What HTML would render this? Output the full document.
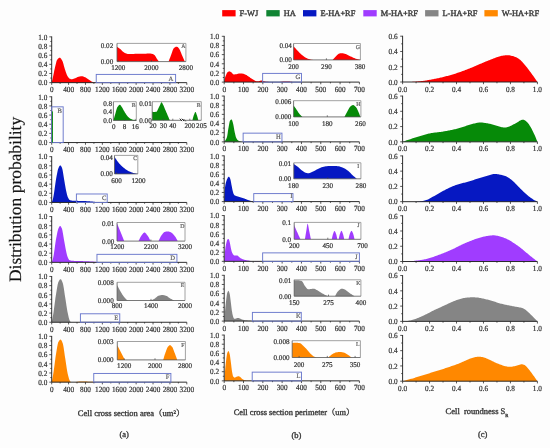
<!DOCTYPE html><html><head><meta charset="utf-8"><style>html,body{margin:0;padding:0;background:#fdfdfd;}svg{display:block;filter:blur(0.3px);}text{white-space:pre;}</style></head><body><svg width="550" height="448" viewBox="0 0 550 448" font-family="'Liberation Serif','Noto Serif CJK SC',serif" fill="#262626">
<style>text{stroke:#3a3a3a;stroke-width:0.2px;text-rendering:geometricPrecision;}</style>
<rect width="550" height="448" fill="#fdfdfd"/>
<rect x="222.2" y="10.1" width="13.4" height="6.3" fill="#ff0000"/>
<text x="239.6" y="16.4" font-size="8.4" text-anchor="start" fill="#3a3a3a" style="stroke-width:0.4px">F-WJ</text>
<rect x="266.3" y="10.1" width="13.4" height="6.3" fill="#108433"/>
<text x="283.7" y="16.4" font-size="8.4" text-anchor="start" fill="#3a3a3a" style="stroke-width:0.4px">HA</text>
<rect x="303.0" y="10.1" width="13.4" height="6.3" fill="#0618c2"/>
<text x="320.4" y="16.4" font-size="8.4" text-anchor="start" fill="#3a3a3a" style="stroke-width:0.4px">E-HA+RF</text>
<rect x="363.3" y="10.1" width="13.4" height="6.3" fill="#a03cff"/>
<text x="380.7" y="16.4" font-size="8.4" text-anchor="start" fill="#3a3a3a" style="stroke-width:0.4px">M-HA+RF</text>
<rect x="425.1" y="10.1" width="13.4" height="6.3" fill="#858585"/>
<text x="442.5" y="16.4" font-size="8.4" text-anchor="start" fill="#3a3a3a" style="stroke-width:0.4px">L-HA+RF</text>
<rect x="484.4" y="10.1" width="13.4" height="6.3" fill="#ff8800"/>
<text x="501.8" y="16.4" font-size="8.4" text-anchor="start" fill="#3a3a3a" style="stroke-width:0.4px">W-HA+RF</text>
<path d="M51.7,82.65L51.7,82.65L52.07,81.09L52.44,79.49L52.81,77.84L53.18,76.08L53.54,74.25L53.91,72.4L54.28,70.6L54.65,68.9L55.02,67.35L55.39,65.77L55.76,64.18L56.13,62.68L56.5,61.37L56.87,60.35L57.23,59.69L57.6,59.21L57.97,58.78L58.34,58.4L58.71,58.09L59.08,57.86L59.45,57.72L59.82,57.7L60.19,57.83L60.56,58.13L60.92,58.55L61.29,59.07L61.66,59.65L62.03,60.28L62.4,60.94L62.77,61.87L63.14,63.03L63.51,64.35L63.88,65.73L64.25,67.1L64.61,68.37L64.98,69.49L65.35,70.62L65.72,71.74L66.09,72.83L66.46,73.85L66.83,74.77L67.2,75.55L67.57,76.2L67.93,76.81L68.3,77.37L68.67,77.86L69.04,78.25L69.41,78.52L69.78,78.7L70.15,78.87L70.52,79.02L70.89,79.13L71.26,79.2L71.62,79.21L71.99,79.19L72.36,79.13L72.73,79.04L73.1,78.94L73.47,78.82L73.84,78.69L74.21,78.55L74.58,78.42L74.95,78.29L75.31,78.16L75.68,78L76.05,77.83L76.42,77.65L76.79,77.46L77.16,77.28L77.53,77.11L77.9,76.96L78.27,76.82L78.63,76.72L79,76.63L79.37,76.55L79.74,76.47L80.11,76.4L80.48,76.34L80.85,76.29L81.22,76.25L81.59,76.24L81.96,76.25L82.32,76.29L82.69,76.37L83.06,76.47L83.43,76.59L83.8,76.73L84.17,76.88L84.54,77.03L84.91,77.19L85.28,77.34L85.65,77.53L86.01,77.75L86.38,77.99L86.75,78.25L87.12,78.52L87.49,78.79L87.86,79.05L88.23,79.31L88.6,79.55L88.97,79.8L89.34,80.06L89.7,80.31L90.07,80.57L90.44,80.81L90.81,81.04L91.18,81.26L91.55,81.45L91.92,81.65L92.29,81.85L92.66,82.03L93.02,82.2L93.39,82.33L93.76,82.44L94.13,82.5L94.5,82.56L94.87,82.61L95.24,82.64L95.61,82.65L95.61,82.65Z" fill="#ff0000"/>
<path d="M95.61,82.65L95.61,82.65L96.21,82.64L96.82,82.63L97.43,82.62L98.03,82.61L98.64,82.6L99.25,82.59L99.85,82.58L100.46,82.57L101.07,82.56L101.67,82.55L102.28,82.54L102.89,82.53L103.49,82.52L104.1,82.51L104.71,82.5L105.31,82.49L105.92,82.49L106.53,82.48L107.13,82.47L107.74,82.46L108.35,82.46L108.95,82.45L109.56,82.45L110.17,82.44L110.77,82.44L111.38,82.43L111.99,82.43L112.59,82.43L113.2,82.42L113.81,82.42L114.41,82.42L115.02,82.42L115.63,82.42L116.23,82.42L116.84,82.42L117.45,82.42L118.05,82.42L118.66,82.42L119.27,82.42L119.87,82.42L120.48,82.42L121.09,82.42L121.69,82.42L122.3,82.42L122.91,82.42L123.51,82.42L124.12,82.42L124.73,82.42L125.33,82.42L125.94,82.42L126.55,82.42L127.15,82.42L127.76,82.42L128.37,82.42L128.97,82.42L129.58,82.42L130.19,82.42L130.79,82.42L131.4,82.42L132.01,82.42L132.61,82.42L133.22,82.42L133.83,82.42L134.43,82.42L135.04,82.42L135.65,82.42L136.25,82.42L136.86,82.43L137.47,82.44L138.07,82.45L138.68,82.47L139.29,82.49L139.89,82.52L140.5,82.54L141.11,82.57L141.71,82.59L142.32,82.61L142.93,82.63L143.53,82.64L144.14,82.65L144.75,82.65L145.35,82.65L145.96,82.65L146.57,82.65L147.17,82.65L147.78,82.65L148.39,82.65L148.99,82.65L149.6,82.65L150.21,82.65L150.81,82.65L151.42,82.65L152.03,82.65L152.63,82.65L153.24,82.65L153.85,82.65L154.45,82.65L155.06,82.65L155.67,82.64L156.27,82.61L156.88,82.56L157.49,82.51L158.09,82.44L158.7,82.38L159.31,82.32L159.91,82.26L160.52,82.22L161.13,82.2L161.73,82.19L162.34,82.2L162.95,82.22L163.55,82.24L164.16,82.27L164.77,82.32L165.37,82.37L165.98,82.42L166.59,82.49L167.19,82.57L167.8,82.65L167.8,82.65Z" fill="#ff0000"/>
<path d="M51.7,36.45V82.65H186.8" fill="none" stroke="#222" stroke-width="0.95"/>
<path d="M49.3,82.65H51.7M49.3,73.49H51.7M49.3,64.33H51.7M49.3,55.17H51.7M49.3,46.01H51.7M49.3,36.85H51.7M50.3,78.07H51.7M50.3,68.91H51.7M50.3,59.75H51.7M50.3,50.59H51.7M50.3,41.43H51.7M51.7,82.65V84.85M68.59,82.65V84.85M85.48,82.65V84.85M102.36,82.65V84.85M119.25,82.65V84.85M136.14,82.65V84.85M153.03,82.65V84.85M169.91,82.65V84.85M186.8,82.65V84.85M60.14,82.65V83.95M77.03,82.65V83.95M93.92,82.65V83.95M110.81,82.65V83.95M127.69,82.65V83.95M144.58,82.65V83.95M161.47,82.65V83.95M178.36,82.65V83.95" fill="none" stroke="#222" stroke-width="0.75"/>
<text transform="translate(47.3,85.45) scale(0.92,1)" font-size="7.9" text-anchor="end" >0.0</text>
<text transform="translate(47.3,76.29) scale(0.92,1)" font-size="7.9" text-anchor="end" >0.2</text>
<text transform="translate(47.3,67.13) scale(0.92,1)" font-size="7.9" text-anchor="end" >0.4</text>
<text transform="translate(47.3,57.97) scale(0.92,1)" font-size="7.9" text-anchor="end" >0.6</text>
<text transform="translate(47.3,48.81) scale(0.92,1)" font-size="7.9" text-anchor="end" >0.8</text>
<text transform="translate(47.3,39.65) scale(0.92,1)" font-size="7.9" text-anchor="end" >1.0</text>
<text transform="translate(51.7,92.15) scale(0.92,1)" font-size="7.9" text-anchor="middle" >0</text>
<text transform="translate(68.59,92.15) scale(0.92,1)" font-size="7.9" text-anchor="middle" >400</text>
<text transform="translate(85.48,92.15) scale(0.92,1)" font-size="7.9" text-anchor="middle" >800</text>
<text transform="translate(102.36,92.15) scale(0.92,1)" font-size="7.9" text-anchor="middle" >1200</text>
<text transform="translate(119.25,92.15) scale(0.92,1)" font-size="7.9" text-anchor="middle" >1600</text>
<text transform="translate(136.14,92.15) scale(0.92,1)" font-size="7.9" text-anchor="middle" >2000</text>
<text transform="translate(153.03,92.15) scale(0.92,1)" font-size="7.9" text-anchor="middle" >2400</text>
<text transform="translate(169.91,92.15) scale(0.92,1)" font-size="7.9" text-anchor="middle" >2800</text>
<text transform="translate(186.8,92.15) scale(0.92,1)" font-size="7.9" text-anchor="middle" >3200</text>
<rect x="96.24" y="74.41" width="79.37" height="8.24" fill="none" stroke="#6a78cc" stroke-width="0.95"/>
<text x="170.81" y="81.41" font-size="6.6" text-anchor="middle" fill="#555" style="stroke:#666">A</text>
<path d="M224.2,82.1L224.2,82.1L224.61,79.22L225.02,77.64L225.44,76.47L225.85,75.42L226.26,74.38L226.67,73.44L227.09,72.72L227.5,72.29L227.91,71.93L228.32,71.64L228.73,71.43L229.15,71.34L229.56,71.38L229.97,71.54L230.38,71.77L230.8,72.03L231.21,72.29L231.62,72.61L232.03,73.02L232.45,73.46L232.86,73.88L233.27,74.2L233.68,74.39L234.09,74.4L234.51,74.39L234.92,74.36L235.33,74.32L235.74,74.27L236.16,74.22L236.57,74.16L236.98,74.06L237.39,73.93L237.8,73.8L238.22,73.66L238.63,73.55L239.04,73.46L239.45,73.4L239.87,73.4L240.28,73.41L240.69,73.43L241.1,73.47L241.51,73.51L241.93,73.55L242.34,73.6L242.75,73.66L243.16,73.74L243.58,73.85L243.99,73.99L244.4,74.15L244.81,74.32L245.22,74.5L245.64,74.68L246.05,74.88L246.46,75.1L246.87,75.35L247.29,75.63L247.7,75.92L248.11,76.22L248.52,76.52L248.94,76.81L249.35,77.09L249.76,77.36L250.17,77.64L250.58,77.91L251,78.19L251.41,78.46L251.82,78.74L252.23,79L252.65,79.26L253.06,79.53L253.47,79.8L253.88,80.07L254.29,80.33L254.71,80.55L255.12,80.73L255.53,80.89L255.94,81.05L256.36,81.19L256.77,81.29L257.18,81.36L257.59,81.36L258,81.31L258.42,81.23L258.83,81.13L259.24,81.02L259.65,80.93L260.07,80.8L260.48,80.67L260.89,80.58L261.3,80.54L261.72,80.58L262.13,80.66L262.54,80.78L262.95,80.91L263.36,81.03L263.78,81.13L264.19,81.24L264.6,81.35L265.01,81.45L265.43,81.55L265.84,81.64L266.25,81.7L266.66,81.75L267.07,81.78L267.49,81.81L267.9,81.84L268.31,81.86L268.72,81.88L269.14,81.9L269.55,81.92L269.96,81.94L270.37,81.96L270.78,81.98L271.2,82.01L271.61,82.03L272.02,82.04L272.43,82.06L272.85,82.08L273.26,82.1L273.26,82.1Z" fill="#ff0000"/>
<path d="M279.05,82.1L279.05,82.1L279.17,82.08L279.3,82.06L279.42,82.04L279.54,82.02L279.66,82L279.78,81.98L279.9,81.96L280.03,81.94L280.15,81.92L280.27,81.9L280.39,81.88L280.51,81.87L280.64,81.85L280.76,81.83L280.88,81.81L281,81.8L281.12,81.78L281.24,81.77L281.37,81.75L281.49,81.74L281.61,81.72L281.73,81.71L281.85,81.69L281.97,81.68L282.1,81.67L282.22,81.66L282.34,81.64L282.46,81.63L282.58,81.62L282.7,81.61L282.83,81.6L282.95,81.59L283.07,81.58L283.19,81.57L283.31,81.56L283.43,81.55L283.56,81.54L283.68,81.53L283.8,81.53L283.92,81.52L284.04,81.51L284.17,81.51L284.29,81.5L284.41,81.49L284.53,81.49L284.65,81.48L284.77,81.48L284.9,81.48L285.02,81.47L285.14,81.47L285.26,81.47L285.38,81.46L285.5,81.46L285.63,81.46L285.75,81.46L285.87,81.46L285.99,81.46L286.11,81.46L286.23,81.46L286.36,81.46L286.48,81.46L286.6,81.46L286.72,81.46L286.84,81.47L286.96,81.47L287.09,81.47L287.21,81.47L287.33,81.48L287.45,81.48L287.57,81.48L287.7,81.49L287.82,81.49L287.94,81.5L288.06,81.5L288.18,81.51L288.3,81.52L288.43,81.52L288.55,81.53L288.67,81.53L288.79,81.54L288.91,81.55L289.03,81.56L289.16,81.57L289.28,81.57L289.4,81.58L289.52,81.59L289.64,81.6L289.76,81.61L289.89,81.62L290.01,81.63L290.13,81.64L290.25,81.66L290.37,81.67L290.5,81.68L290.62,81.69L290.74,81.7L290.86,81.72L290.98,81.73L291.1,81.74L291.23,81.76L291.35,81.77L291.47,81.79L291.59,81.8L291.71,81.82L291.83,81.84L291.96,81.85L292.08,81.87L292.2,81.89L292.32,81.9L292.44,81.92L292.56,81.94L292.69,81.96L292.81,81.98L292.93,82L293.05,82.02L293.17,82.04L293.29,82.06L293.42,82.08L293.54,82.1L293.54,82.1Z" fill="#ff0000"/>
<path d="M224.2,35.9V82.1H359.4" fill="none" stroke="#222" stroke-width="0.95"/>
<path d="M221.8,82.1H224.2M221.8,72.94H224.2M221.8,63.78H224.2M221.8,54.62H224.2M221.8,45.46H224.2M221.8,36.3H224.2M222.8,77.52H224.2M222.8,68.36H224.2M222.8,59.2H224.2M222.8,50.04H224.2M222.8,40.88H224.2M224.2,82.1V84.3M243.51,82.1V84.3M262.83,82.1V84.3M282.14,82.1V84.3M301.46,82.1V84.3M320.77,82.1V84.3M340.09,82.1V84.3M359.4,82.1V84.3M233.86,82.1V83.4M253.17,82.1V83.4M272.49,82.1V83.4M291.8,82.1V83.4M311.11,82.1V83.4M330.43,82.1V83.4M349.74,82.1V83.4" fill="none" stroke="#222" stroke-width="0.75"/>
<text transform="translate(219.2,84.9) scale(0.92,1)" font-size="7.9" text-anchor="end" >0.0</text>
<text transform="translate(219.2,75.74) scale(0.92,1)" font-size="7.9" text-anchor="end" >0.2</text>
<text transform="translate(219.2,66.58) scale(0.92,1)" font-size="7.9" text-anchor="end" >0.4</text>
<text transform="translate(219.2,57.42) scale(0.92,1)" font-size="7.9" text-anchor="end" >0.6</text>
<text transform="translate(219.2,48.26) scale(0.92,1)" font-size="7.9" text-anchor="end" >0.8</text>
<text transform="translate(219.2,39.1) scale(0.92,1)" font-size="7.9" text-anchor="end" >1.0</text>
<text transform="translate(224.2,91.6) scale(0.92,1)" font-size="7.9" text-anchor="middle" >0</text>
<text transform="translate(243.51,91.6) scale(0.92,1)" font-size="7.9" text-anchor="middle" >100</text>
<text transform="translate(262.83,91.6) scale(0.92,1)" font-size="7.9" text-anchor="middle" >200</text>
<text transform="translate(282.14,91.6) scale(0.92,1)" font-size="7.9" text-anchor="middle" >300</text>
<text transform="translate(301.46,91.6) scale(0.92,1)" font-size="7.9" text-anchor="middle" >400</text>
<text transform="translate(320.77,91.6) scale(0.92,1)" font-size="7.9" text-anchor="middle" >500</text>
<text transform="translate(340.09,91.6) scale(0.92,1)" font-size="7.9" text-anchor="middle" >600</text>
<text transform="translate(359.4,91.6) scale(0.92,1)" font-size="7.9" text-anchor="middle" >700</text>
<rect x="262.64" y="73.4" width="38.82" height="8.7" fill="none" stroke="#6a78cc" stroke-width="0.95"/>
<text x="297.96" y="79.2" font-size="6.6" text-anchor="middle" fill="#555" style="stroke:#666">G</text>
<path d="M402.6,82L402.6,82L403.45,82L404.3,82L405.14,82L405.99,82L406.84,82L407.69,82L408.53,82L409.38,81.99L410.23,81.96L411.08,81.93L411.93,81.9L412.77,81.85L413.62,81.8L414.47,81.74L415.32,81.68L416.16,81.61L417.01,81.54L417.86,81.46L418.71,81.37L419.56,81.28L420.4,81.19L421.25,81.09L422.1,80.99L422.95,80.88L423.79,80.76L424.64,80.65L425.49,80.52L426.34,80.39L427.19,80.26L428.03,80.12L428.88,79.98L429.73,79.83L430.58,79.68L431.43,79.53L432.27,79.37L433.12,79.21L433.97,79.04L434.82,78.87L435.66,78.7L436.51,78.52L437.36,78.34L438.21,78.16L439.06,77.97L439.9,77.78L440.75,77.58L441.6,77.39L442.45,77.18L443.29,76.98L444.14,76.77L444.99,76.55L445.84,76.34L446.69,76.11L447.53,75.89L448.38,75.66L449.23,75.43L450.08,75.19L450.92,74.95L451.77,74.7L452.62,74.45L453.47,74.19L454.32,73.93L455.16,73.66L456.01,73.39L456.86,73.11L457.71,72.83L458.55,72.54L459.4,72.25L460.25,71.95L461.1,71.65L461.95,71.35L462.79,71.04L463.64,70.73L464.49,70.42L465.34,70.1L466.18,69.78L467.03,69.45L467.88,69.11L468.73,68.78L469.58,68.43L470.42,68.09L471.27,67.73L472.12,67.38L472.97,67.02L473.82,66.66L474.66,66.3L475.51,65.94L476.36,65.57L477.21,65.21L478.05,64.84L478.9,64.48L479.75,64.12L480.6,63.75L481.45,63.39L482.29,63.03L483.14,62.68L483.99,62.32L484.84,61.97L485.68,61.62L486.53,61.28L487.38,60.94L488.23,60.6L489.08,60.26L489.92,59.92L490.77,59.59L491.62,59.25L492.47,58.92L493.31,58.59L494.16,58.27L495.01,57.94L495.86,57.61L496.71,57.29L497.55,56.97L498.4,56.69L499.25,56.44L500.1,56.23L500.94,56.03L501.79,55.86L502.64,55.71L503.49,55.58L504.34,55.46L505.18,55.35L506.03,55.25L506.88,55.2L507.73,55.21L508.57,55.26L509.42,55.37L510.27,55.51L511.12,55.68L511.97,55.88L512.81,56.11L513.66,56.35L514.51,56.63L515.36,56.95L516.21,57.32L517.05,57.74L517.9,58.22L518.75,58.78L519.6,59.41L520.44,60.12L521.29,60.92L522.14,61.79L522.99,62.7L523.84,63.65L524.68,64.64L525.53,65.66L526.38,66.71L527.23,67.78L528.07,68.89L528.92,70.02L529.77,71.17L530.62,72.33L531.47,73.49L532.31,74.66L533.16,75.84L534.01,77.03L534.86,78.24L535.7,79.47L536.55,80.72L537.4,82L537.4,82Z" fill="#ff0000"/>
<path d="M402.6,35.8V82H537.4" fill="none" stroke="#222" stroke-width="0.95"/>
<path d="M400.2,82H402.6M400.2,66.73H402.6M400.2,51.47H402.6M400.2,36.2H402.6M401.2,74.37H402.6M401.2,59.1H402.6M401.2,43.83H402.6M402.6,82V84.2M429.56,82V84.2M456.52,82V84.2M483.48,82V84.2M510.44,82V84.2M537.4,82V84.2M416.08,82V83.3M443.04,82V83.3M470,82V83.3M496.96,82V83.3M523.92,82V83.3" fill="none" stroke="#222" stroke-width="0.75"/>
<text transform="translate(397.6,84.8) scale(0.92,1)" font-size="7.9" text-anchor="end" >0.0</text>
<text transform="translate(397.6,69.53) scale(0.92,1)" font-size="7.9" text-anchor="end" >0.2</text>
<text transform="translate(397.6,54.27) scale(0.92,1)" font-size="7.9" text-anchor="end" >0.4</text>
<text transform="translate(397.6,39) scale(0.92,1)" font-size="7.9" text-anchor="end" >0.6</text>
<text transform="translate(402.6,91.5) scale(0.92,1)" font-size="7.9" text-anchor="middle" >0.0</text>
<text transform="translate(429.56,91.5) scale(0.92,1)" font-size="7.9" text-anchor="middle" >0.2</text>
<text transform="translate(456.52,91.5) scale(0.92,1)" font-size="7.9" text-anchor="middle" >0.4</text>
<text transform="translate(483.48,91.5) scale(0.92,1)" font-size="7.9" text-anchor="middle" >0.6</text>
<text transform="translate(510.44,91.5) scale(0.92,1)" font-size="7.9" text-anchor="middle" >0.8</text>
<text transform="translate(537.4,91.5) scale(0.92,1)" font-size="7.9" text-anchor="middle" >1.0</text>
<path d="M51.7,96.35V142.55H186.8" fill="none" stroke="#222" stroke-width="0.95"/>
<path d="M49.3,142.55H51.7M49.3,133.39H51.7M49.3,124.23H51.7M49.3,115.07H51.7M49.3,105.91H51.7M49.3,96.75H51.7M50.3,137.97H51.7M50.3,128.81H51.7M50.3,119.65H51.7M50.3,110.49H51.7M50.3,101.33H51.7M51.7,142.55V144.75M68.59,142.55V144.75M85.48,142.55V144.75M102.36,142.55V144.75M119.25,142.55V144.75M136.14,142.55V144.75M153.03,142.55V144.75M169.91,142.55V144.75M186.8,142.55V144.75M60.14,142.55V143.85M77.03,142.55V143.85M93.92,142.55V143.85M110.81,142.55V143.85M127.69,142.55V143.85M144.58,142.55V143.85M161.47,142.55V143.85M178.36,142.55V143.85" fill="none" stroke="#222" stroke-width="0.75"/>
<text transform="translate(47.3,145.35) scale(0.92,1)" font-size="7.9" text-anchor="end" >0.0</text>
<text transform="translate(47.3,136.19) scale(0.92,1)" font-size="7.9" text-anchor="end" >0.2</text>
<text transform="translate(47.3,127.03) scale(0.92,1)" font-size="7.9" text-anchor="end" >0.4</text>
<text transform="translate(47.3,117.87) scale(0.92,1)" font-size="7.9" text-anchor="end" >0.6</text>
<text transform="translate(47.3,108.71) scale(0.92,1)" font-size="7.9" text-anchor="end" >0.8</text>
<text transform="translate(47.3,99.55) scale(0.92,1)" font-size="7.9" text-anchor="end" >1.0</text>
<text transform="translate(51.7,152.05) scale(0.92,1)" font-size="7.9" text-anchor="middle" >0</text>
<text transform="translate(68.59,152.05) scale(0.92,1)" font-size="7.9" text-anchor="middle" >400</text>
<text transform="translate(85.48,152.05) scale(0.92,1)" font-size="7.9" text-anchor="middle" >800</text>
<text transform="translate(102.36,152.05) scale(0.92,1)" font-size="7.9" text-anchor="middle" >1200</text>
<text transform="translate(119.25,152.05) scale(0.92,1)" font-size="7.9" text-anchor="middle" >1600</text>
<text transform="translate(136.14,152.05) scale(0.92,1)" font-size="7.9" text-anchor="middle" >2000</text>
<text transform="translate(153.03,152.05) scale(0.92,1)" font-size="7.9" text-anchor="middle" >2400</text>
<text transform="translate(169.91,152.05) scale(0.92,1)" font-size="7.9" text-anchor="middle" >2800</text>
<text transform="translate(186.8,152.05) scale(0.92,1)" font-size="7.9" text-anchor="middle" >3200</text>
<rect x="51.7" y="106.83" width="11.48" height="35.72" fill="none" stroke="#6a78cc" stroke-width="0.95"/>
<text x="59.58" y="112.53" font-size="6.6" text-anchor="middle" fill="#555" style="stroke:#666">B</text>
<rect x="52" y="111.41" width="0.9" height="31.14" fill="#068a08"/>
<path d="M224.2,141.85L224.2,141.85L224.35,141.69L224.51,141.53L224.66,141.35L224.81,141.15L224.96,140.95L225.12,140.73L225.27,140.52L225.42,140.29L225.57,140.07L225.73,139.83L225.88,139.57L226.03,139.3L226.18,139.01L226.34,138.7L226.49,138.36L226.64,137.99L226.79,137.58L226.95,137.14L227.1,136.55L227.25,135.8L227.4,134.92L227.56,133.95L227.71,132.92L227.86,131.86L228.01,130.8L228.17,129.79L228.32,128.84L228.47,127.99L228.62,127.15L228.78,126.27L228.93,125.38L229.08,124.49L229.23,123.65L229.39,122.86L229.54,122.15L229.69,121.55L229.84,121.09L230,120.78L230.15,120.55L230.3,120.34L230.46,120.15L230.61,119.97L230.76,119.81L230.91,119.68L231.07,119.57L231.22,119.48L231.37,119.43L231.52,119.41L231.68,119.46L231.83,119.63L231.98,119.9L232.13,120.27L232.29,120.7L232.44,121.19L232.59,121.72L232.74,122.28L232.9,122.84L233.05,123.4L233.2,123.98L233.35,124.67L233.51,125.46L233.66,126.31L233.81,127.2L233.96,128.12L234.12,129.03L234.27,129.92L234.42,130.76L234.57,131.52L234.73,132.21L234.88,132.91L235.03,133.6L235.18,134.28L235.34,134.94L235.49,135.56L235.64,136.15L235.8,136.68L235.95,137.16L236.1,137.56L236.25,137.89L236.41,138.2L236.56,138.49L236.71,138.77L236.86,139.03L237.02,139.27L237.17,139.5L237.32,139.71L237.47,139.9L237.63,140.07L237.78,140.22L237.93,140.35L238.08,140.46L238.24,140.56L238.39,140.64L238.54,140.72L238.69,140.8L238.85,140.87L239,140.93L239.15,140.99L239.3,141.05L239.46,141.1L239.61,141.15L239.76,141.2L239.91,141.24L240.07,141.29L240.22,141.33L240.37,141.38L240.52,141.42L240.68,141.47L240.83,141.51L240.98,141.55L241.13,141.59L241.29,141.63L241.44,141.66L241.59,141.7L241.75,141.73L241.9,141.77L242.05,141.8L242.2,141.82L242.36,141.85L242.36,141.85Z" fill="#068a08"/>
<path d="M224.2,95.65V141.85H359.4" fill="none" stroke="#222" stroke-width="0.95"/>
<path d="M221.8,141.85H224.2M221.8,132.69H224.2M221.8,123.53H224.2M221.8,114.37H224.2M221.8,105.21H224.2M221.8,96.05H224.2M222.8,137.27H224.2M222.8,128.11H224.2M222.8,118.95H224.2M222.8,109.79H224.2M222.8,100.63H224.2M224.2,141.85V144.05M243.51,141.85V144.05M262.83,141.85V144.05M282.14,141.85V144.05M301.46,141.85V144.05M320.77,141.85V144.05M340.09,141.85V144.05M359.4,141.85V144.05M233.86,141.85V143.15M253.17,141.85V143.15M272.49,141.85V143.15M291.8,141.85V143.15M311.11,141.85V143.15M330.43,141.85V143.15M349.74,141.85V143.15" fill="none" stroke="#222" stroke-width="0.75"/>
<text transform="translate(219.2,144.65) scale(0.92,1)" font-size="7.9" text-anchor="end" >0.0</text>
<text transform="translate(219.2,135.49) scale(0.92,1)" font-size="7.9" text-anchor="end" >0.2</text>
<text transform="translate(219.2,126.33) scale(0.92,1)" font-size="7.9" text-anchor="end" >0.4</text>
<text transform="translate(219.2,117.17) scale(0.92,1)" font-size="7.9" text-anchor="end" >0.6</text>
<text transform="translate(219.2,108.01) scale(0.92,1)" font-size="7.9" text-anchor="end" >0.8</text>
<text transform="translate(219.2,98.85) scale(0.92,1)" font-size="7.9" text-anchor="end" >1.0</text>
<text transform="translate(224.2,151.35) scale(0.92,1)" font-size="7.9" text-anchor="middle" >0</text>
<text transform="translate(243.51,151.35) scale(0.92,1)" font-size="7.9" text-anchor="middle" >100</text>
<text transform="translate(262.83,151.35) scale(0.92,1)" font-size="7.9" text-anchor="middle" >200</text>
<text transform="translate(282.14,151.35) scale(0.92,1)" font-size="7.9" text-anchor="middle" >300</text>
<text transform="translate(301.46,151.35) scale(0.92,1)" font-size="7.9" text-anchor="middle" >400</text>
<text transform="translate(320.77,151.35) scale(0.92,1)" font-size="7.9" text-anchor="middle" >500</text>
<text transform="translate(340.09,151.35) scale(0.92,1)" font-size="7.9" text-anchor="middle" >600</text>
<text transform="translate(359.4,151.35) scale(0.92,1)" font-size="7.9" text-anchor="middle" >700</text>
<rect x="243.13" y="133.15" width="38.82" height="8.7" fill="none" stroke="#6a78cc" stroke-width="0.95"/>
<text x="278.35" y="138.85" font-size="6.6" text-anchor="middle" fill="#555" style="stroke:#666">H</text>
<path d="M402.6,141.84L402.6,141.84L403.45,141.53L404.3,141.22L405.14,140.92L405.99,140.62L406.84,140.33L407.69,140.04L408.53,139.75L409.38,139.46L410.23,139.18L411.08,138.89L411.93,138.61L412.77,138.34L413.62,138.06L414.47,137.78L415.32,137.51L416.16,137.23L417.01,136.96L417.86,136.69L418.71,136.42L419.56,136.15L420.4,135.89L421.25,135.63L422.1,135.38L422.95,135.13L423.79,134.88L424.64,134.65L425.49,134.42L426.34,134.2L427.19,133.99L428.03,133.78L428.88,133.59L429.73,133.41L430.58,133.24L431.43,133.09L432.27,132.95L433.12,132.82L433.97,132.71L434.82,132.6L435.66,132.5L436.51,132.4L437.36,132.3L438.21,132.2L439.06,132.1L439.9,132L440.75,131.89L441.6,131.77L442.45,131.63L443.29,131.49L444.14,131.34L444.99,131.19L445.84,131.04L446.69,130.89L447.53,130.74L448.38,130.58L449.23,130.42L450.08,130.25L450.92,130.08L451.77,129.91L452.62,129.74L453.47,129.56L454.32,129.37L455.16,129.18L456.01,128.98L456.86,128.78L457.71,128.56L458.55,128.33L459.4,128.08L460.25,127.82L461.1,127.56L461.95,127.28L462.79,127L463.64,126.72L464.49,126.43L465.34,126.14L466.18,125.86L467.03,125.58L467.88,125.31L468.73,125.04L469.58,124.79L470.42,124.54L471.27,124.3L472.12,124.06L472.97,123.82L473.82,123.6L474.66,123.39L475.51,123.19L476.36,123.01L477.21,122.85L478.05,122.72L478.9,122.62L479.75,122.55L480.6,122.51L481.45,122.52L482.29,122.56L483.14,122.64L483.99,122.75L484.84,122.88L485.68,123.03L486.53,123.19L487.38,123.35L488.23,123.52L489.08,123.69L489.92,123.85L490.77,124.01L491.62,124.19L492.47,124.41L493.31,124.65L494.16,124.9L495.01,125.17L495.86,125.45L496.71,125.73L497.55,126.01L498.4,126.28L499.25,126.54L500.1,126.78L500.94,127L501.79,127.19L502.64,127.34L503.49,127.46L504.34,127.54L505.18,127.57L506.03,127.51L506.88,127.35L507.73,127.12L508.57,126.82L509.42,126.46L510.27,126.06L511.12,125.63L511.97,125.18L512.81,124.74L513.66,124.3L514.51,123.89L515.36,123.46L516.21,122.97L517.05,122.45L517.9,121.92L518.75,121.38L519.6,120.87L520.44,120.39L521.29,119.98L522.14,119.72L522.99,119.69L523.84,119.85L524.68,120.2L525.53,120.72L526.38,121.4L527.23,122.22L528.07,123.21L528.92,124.35L529.77,125.64L530.62,127.05L531.47,128.59L532.31,130.23L533.16,131.94L534.01,133.73L534.86,135.61L535.7,137.58L536.55,139.65L537.4,141.84L537.4,141.84Z" fill="#068a08"/>
<path d="M402.6,95.64V141.84H537.4" fill="none" stroke="#222" stroke-width="0.95"/>
<path d="M400.2,141.84H402.6M400.2,126.57H402.6M400.2,111.31H402.6M400.2,96.04H402.6M401.2,134.21H402.6M401.2,118.94H402.6M401.2,103.67H402.6M402.6,141.84V144.04M429.56,141.84V144.04M456.52,141.84V144.04M483.48,141.84V144.04M510.44,141.84V144.04M537.4,141.84V144.04M416.08,141.84V143.14M443.04,141.84V143.14M470,141.84V143.14M496.96,141.84V143.14M523.92,141.84V143.14" fill="none" stroke="#222" stroke-width="0.75"/>
<text transform="translate(397.6,144.64) scale(0.92,1)" font-size="7.9" text-anchor="end" >0.0</text>
<text transform="translate(397.6,129.37) scale(0.92,1)" font-size="7.9" text-anchor="end" >0.2</text>
<text transform="translate(397.6,114.11) scale(0.92,1)" font-size="7.9" text-anchor="end" >0.4</text>
<text transform="translate(397.6,98.84) scale(0.92,1)" font-size="7.9" text-anchor="end" >0.6</text>
<text transform="translate(402.6,151.34) scale(0.92,1)" font-size="7.9" text-anchor="middle" >0.0</text>
<text transform="translate(429.56,151.34) scale(0.92,1)" font-size="7.9" text-anchor="middle" >0.2</text>
<text transform="translate(456.52,151.34) scale(0.92,1)" font-size="7.9" text-anchor="middle" >0.4</text>
<text transform="translate(483.48,151.34) scale(0.92,1)" font-size="7.9" text-anchor="middle" >0.6</text>
<text transform="translate(510.44,151.34) scale(0.92,1)" font-size="7.9" text-anchor="middle" >0.8</text>
<text transform="translate(537.4,151.34) scale(0.92,1)" font-size="7.9" text-anchor="middle" >1.0</text>
<path d="M51.7,202.45L51.7,202.45L52.1,201.55L52.5,200.4L52.9,199.02L53.3,197.31L53.7,195.1L54.11,192.51L54.51,189.69L54.91,186.77L55.31,183.88L55.71,181.16L56.11,178.75L56.51,176.62L56.91,174.47L57.31,172.4L57.71,170.55L58.11,169.03L58.52,167.97L58.92,167.12L59.32,166.36L59.72,165.76L60.12,165.41L60.52,165.39L60.92,165.76L61.32,166.44L61.72,167.32L62.12,168.31L62.52,169.85L62.93,171.97L63.33,174.44L63.73,177L64.13,179.4L64.53,181.71L64.93,184.13L65.33,186.55L65.73,188.83L66.13,190.86L66.53,192.6L66.93,194.23L67.34,195.7L67.74,196.9L68.14,197.79L68.54,198.56L68.94,199.22L69.34,199.71L69.74,199.98L70.14,200.16L70.54,200.31L70.94,200.44L71.34,200.53L71.75,200.59L72.15,200.63L72.55,200.66L72.95,200.69L73.35,200.71L73.75,200.73L74.15,200.75L74.55,200.77L74.95,200.78L75.35,200.79L75.75,200.81L76.15,200.82L76.56,200.83L76.96,200.84L77.36,200.86L77.76,200.87L78.16,200.88L78.56,200.89L78.96,200.9L79.36,200.91L79.76,200.92L80.16,200.93L80.56,200.94L80.97,200.95L81.37,200.96L81.77,200.97L82.17,200.98L82.57,200.99L82.97,201L83.37,201.01L83.77,201.02L84.17,201.03L84.57,201.04L84.97,201.06L85.38,201.07L85.78,201.09L86.18,201.11L86.58,201.13L86.98,201.15L87.38,201.18L87.78,201.2L88.18,201.23L88.58,201.26L88.98,201.29L89.38,201.32L89.79,201.36L90.19,201.39L90.59,201.43L90.99,201.46L91.39,201.5L91.79,201.53L92.19,201.57L92.59,201.61L92.99,201.65L93.39,201.7L93.79,201.74L94.2,201.79L94.6,201.84L95,201.89L95.4,201.94L95.8,201.99L96.2,202.04L96.6,202.09L97,202.14L97.4,202.19L97.8,202.24L98.2,202.29L98.61,202.34L99.01,202.4L99.41,202.45L99.41,202.45Z" fill="#0618c2"/>
<path d="M51.7,156.25V202.45H186.8" fill="none" stroke="#222" stroke-width="0.95"/>
<path d="M49.3,202.45H51.7M49.3,193.29H51.7M49.3,184.13H51.7M49.3,174.97H51.7M49.3,165.81H51.7M49.3,156.65H51.7M50.3,197.87H51.7M50.3,188.71H51.7M50.3,179.55H51.7M50.3,170.39H51.7M50.3,161.23H51.7M51.7,202.45V204.65M68.59,202.45V204.65M85.48,202.45V204.65M102.36,202.45V204.65M119.25,202.45V204.65M136.14,202.45V204.65M153.03,202.45V204.65M169.91,202.45V204.65M186.8,202.45V204.65M60.14,202.45V203.75M77.03,202.45V203.75M93.92,202.45V203.75M110.81,202.45V203.75M127.69,202.45V203.75M144.58,202.45V203.75M161.47,202.45V203.75M178.36,202.45V203.75" fill="none" stroke="#222" stroke-width="0.75"/>
<text transform="translate(47.3,205.25) scale(0.92,1)" font-size="7.9" text-anchor="end" >0.0</text>
<text transform="translate(47.3,196.09) scale(0.92,1)" font-size="7.9" text-anchor="end" >0.2</text>
<text transform="translate(47.3,186.93) scale(0.92,1)" font-size="7.9" text-anchor="end" >0.4</text>
<text transform="translate(47.3,177.77) scale(0.92,1)" font-size="7.9" text-anchor="end" >0.6</text>
<text transform="translate(47.3,168.61) scale(0.92,1)" font-size="7.9" text-anchor="end" >0.8</text>
<text transform="translate(47.3,159.45) scale(0.92,1)" font-size="7.9" text-anchor="end" >1.0</text>
<text transform="translate(51.7,211.95) scale(0.92,1)" font-size="7.9" text-anchor="middle" >0</text>
<text transform="translate(68.59,211.95) scale(0.92,1)" font-size="7.9" text-anchor="middle" >400</text>
<text transform="translate(85.48,211.95) scale(0.92,1)" font-size="7.9" text-anchor="middle" >800</text>
<text transform="translate(102.36,211.95) scale(0.92,1)" font-size="7.9" text-anchor="middle" >1200</text>
<text transform="translate(119.25,211.95) scale(0.92,1)" font-size="7.9" text-anchor="middle" >1600</text>
<text transform="translate(136.14,211.95) scale(0.92,1)" font-size="7.9" text-anchor="middle" >2000</text>
<text transform="translate(153.03,211.95) scale(0.92,1)" font-size="7.9" text-anchor="middle" >2400</text>
<text transform="translate(169.91,211.95) scale(0.92,1)" font-size="7.9" text-anchor="middle" >2800</text>
<text transform="translate(186.8,211.95) scale(0.92,1)" font-size="7.9" text-anchor="middle" >3200</text>
<rect x="76.4" y="193.98" width="30.82" height="8.47" fill="none" stroke="#6a78cc" stroke-width="0.95"/>
<text x="104.32" y="199.88" font-size="6.6" text-anchor="middle" fill="#555" style="stroke:#666">C</text>
<path d="M224.2,201.6L224.2,201.6L224.61,191.65L225.01,187.47L225.42,184.83L225.82,182.94L226.23,181.41L226.63,180.2L227.04,179.22L227.45,178.38L227.85,177.54L228.26,176.89L228.66,176.64L229.07,176.84L229.47,177.35L229.88,178.07L230.29,178.95L230.69,180.57L231.1,182.76L231.5,184.94L231.91,187L232.32,189.16L232.72,191.12L233.13,192.56L233.53,193.64L233.94,194.53L234.34,195.11L234.75,195.39L235.16,195.62L235.56,195.81L235.97,195.97L236.37,196.11L236.78,196.23L237.18,196.33L237.59,196.43L238,196.54L238.4,196.64L238.81,196.77L239.21,196.9L239.62,197.03L240.02,197.15L240.43,197.28L240.84,197.4L241.24,197.52L241.65,197.64L242.05,197.76L242.46,197.88L242.87,198.01L243.27,198.15L243.68,198.29L244.08,198.44L244.49,198.6L244.89,198.76L245.3,198.93L245.71,199.1L246.11,199.27L246.52,199.44L246.92,199.6L247.33,199.76L247.73,199.92L248.14,200.06L248.55,200.19L248.95,200.32L249.36,200.43L249.76,200.55L250.17,200.67L250.57,200.79L250.98,200.9L251.39,201.01L251.79,201.11L252.2,201.19L252.6,201.25L253.01,201.3L253.41,201.32L253.82,201.33L254.23,201.33L254.63,201.33L255.04,201.33L255.44,201.33L255.85,201.33L256.26,201.33L256.66,201.33L257.07,201.33L257.47,201.32L257.88,201.31L258.28,201.3L258.69,201.29L259.1,201.27L259.5,201.25L259.91,201.23L260.31,201.22L260.72,201.2L261.12,201.18L261.53,201.17L261.94,201.15L262.34,201.15L262.75,201.14L263.15,201.14L263.56,201.14L263.96,201.14L264.37,201.14L264.78,201.14L265.18,201.14L265.59,201.14L265.99,201.14L266.4,201.14L266.81,201.14L267.21,201.14L267.62,201.14L268.02,201.14L268.43,201.14L268.83,201.14L269.24,201.16L269.65,201.19L270.05,201.23L270.46,201.28L270.86,201.33L271.27,201.4L271.67,201.46L272.08,201.53L272.49,201.6L272.49,201.6Z" fill="#0618c2"/>
<path d="M224.2,155.4V201.6H359.4" fill="none" stroke="#222" stroke-width="0.95"/>
<path d="M221.8,201.6H224.2M221.8,192.44H224.2M221.8,183.28H224.2M221.8,174.12H224.2M221.8,164.96H224.2M221.8,155.8H224.2M222.8,197.02H224.2M222.8,187.86H224.2M222.8,178.7H224.2M222.8,169.54H224.2M222.8,160.38H224.2M224.2,201.6V203.8M243.51,201.6V203.8M262.83,201.6V203.8M282.14,201.6V203.8M301.46,201.6V203.8M320.77,201.6V203.8M340.09,201.6V203.8M359.4,201.6V203.8M233.86,201.6V202.9M253.17,201.6V202.9M272.49,201.6V202.9M291.8,201.6V202.9M311.11,201.6V202.9M330.43,201.6V202.9M349.74,201.6V202.9" fill="none" stroke="#222" stroke-width="0.75"/>
<text transform="translate(219.2,204.4) scale(0.92,1)" font-size="7.9" text-anchor="end" >0.0</text>
<text transform="translate(219.2,195.24) scale(0.92,1)" font-size="7.9" text-anchor="end" >0.2</text>
<text transform="translate(219.2,186.08) scale(0.92,1)" font-size="7.9" text-anchor="end" >0.4</text>
<text transform="translate(219.2,176.92) scale(0.92,1)" font-size="7.9" text-anchor="end" >0.6</text>
<text transform="translate(219.2,167.76) scale(0.92,1)" font-size="7.9" text-anchor="end" >0.8</text>
<text transform="translate(219.2,158.6) scale(0.92,1)" font-size="7.9" text-anchor="end" >1.0</text>
<text transform="translate(224.2,211.1) scale(0.92,1)" font-size="7.9" text-anchor="middle" >0</text>
<text transform="translate(243.51,211.1) scale(0.92,1)" font-size="7.9" text-anchor="middle" >100</text>
<text transform="translate(262.83,211.1) scale(0.92,1)" font-size="7.9" text-anchor="middle" >200</text>
<text transform="translate(282.14,211.1) scale(0.92,1)" font-size="7.9" text-anchor="middle" >300</text>
<text transform="translate(301.46,211.1) scale(0.92,1)" font-size="7.9" text-anchor="middle" >400</text>
<text transform="translate(320.77,211.1) scale(0.92,1)" font-size="7.9" text-anchor="middle" >500</text>
<text transform="translate(340.09,211.1) scale(0.92,1)" font-size="7.9" text-anchor="middle" >600</text>
<text transform="translate(359.4,211.1) scale(0.92,1)" font-size="7.9" text-anchor="middle" >700</text>
<rect x="253.75" y="193.59" width="39.21" height="8.01" fill="none" stroke="#6a78cc" stroke-width="0.95"/>
<text x="291.26" y="198.29" font-size="6.6" text-anchor="middle" fill="#555" style="stroke:#666">I</text>
<path d="M402.6,201.68L402.6,201.68L403.45,201.68L404.3,201.68L405.14,201.68L405.99,201.68L406.84,201.68L407.69,201.68L408.53,201.68L409.38,201.68L410.23,201.68L411.08,201.68L411.93,201.68L412.77,201.68L413.62,201.68L414.47,201.68L415.32,201.68L416.16,201.68L417.01,201.64L417.86,201.58L418.71,201.5L419.56,201.41L420.4,201.31L421.25,201.19L422.1,201.05L422.95,200.89L423.79,200.72L424.64,200.53L425.49,200.3L426.34,200.04L427.19,199.74L428.03,199.39L428.88,198.99L429.73,198.53L430.58,198.05L431.43,197.57L432.27,197.09L433.12,196.61L433.97,196.13L434.82,195.65L435.66,195.17L436.51,194.69L437.36,194.21L438.21,193.73L439.06,193.25L439.9,192.77L440.75,192.29L441.6,191.81L442.45,191.33L443.29,190.85L444.14,190.38L444.99,189.93L445.84,189.5L446.69,189.08L447.53,188.66L448.38,188.26L449.23,187.87L450.08,187.47L450.92,187.08L451.77,186.7L452.62,186.34L453.47,185.98L454.32,185.65L455.16,185.34L456.01,185.05L456.86,184.78L457.71,184.53L458.55,184.28L459.4,184.04L460.25,183.8L461.1,183.57L461.95,183.33L462.79,183.1L463.64,182.87L464.49,182.64L465.34,182.41L466.18,182.18L467.03,181.94L467.88,181.7L468.73,181.45L469.58,181.2L470.42,180.94L471.27,180.68L472.12,180.42L472.97,180.15L473.82,179.89L474.66,179.62L475.51,179.36L476.36,179.09L477.21,178.83L478.05,178.56L478.9,178.3L479.75,178.03L480.6,177.77L481.45,177.5L482.29,177.24L483.14,176.98L483.99,176.71L484.84,176.45L485.68,176.2L486.53,175.94L487.38,175.69L488.23,175.44L489.08,175.19L489.92,174.95L490.77,174.71L491.62,174.48L492.47,174.25L493.31,174.05L494.16,173.95L495.01,173.93L495.86,173.98L496.71,174.07L497.55,174.2L498.4,174.35L499.25,174.51L500.1,174.66L500.94,174.82L501.79,175L502.64,175.2L503.49,175.44L504.34,175.71L505.18,176.02L506.03,176.37L506.88,176.78L507.73,177.24L508.57,177.76L509.42,178.33L510.27,178.94L511.12,179.6L511.97,180.29L512.81,181.03L513.66,181.81L514.51,182.62L515.36,183.47L516.21,184.33L517.05,185.21L517.9,186.1L518.75,186.98L519.6,187.85L520.44,188.7L521.29,189.53L522.14,190.34L522.99,191.15L523.84,191.94L524.68,192.72L525.53,193.49L526.38,194.25L527.23,194.99L528.07,195.7L528.92,196.38L529.77,197.03L530.62,197.66L531.47,198.25L532.31,198.83L533.16,199.38L534.01,199.89L534.86,200.38L535.7,200.84L536.55,201.27L537.4,201.68L537.4,201.68Z" fill="#0618c2"/>
<path d="M402.6,155.48V201.68H537.4" fill="none" stroke="#222" stroke-width="0.95"/>
<path d="M400.2,201.68H402.6M400.2,186.41H402.6M400.2,171.15H402.6M400.2,155.88H402.6M401.2,194.05H402.6M401.2,178.78H402.6M401.2,163.51H402.6M402.6,201.68V203.88M429.56,201.68V203.88M456.52,201.68V203.88M483.48,201.68V203.88M510.44,201.68V203.88M537.4,201.68V203.88M416.08,201.68V202.98M443.04,201.68V202.98M470,201.68V202.98M496.96,201.68V202.98M523.92,201.68V202.98" fill="none" stroke="#222" stroke-width="0.75"/>
<text transform="translate(397.6,204.48) scale(0.92,1)" font-size="7.9" text-anchor="end" >0.0</text>
<text transform="translate(397.6,189.21) scale(0.92,1)" font-size="7.9" text-anchor="end" >0.2</text>
<text transform="translate(397.6,173.95) scale(0.92,1)" font-size="7.9" text-anchor="end" >0.4</text>
<text transform="translate(397.6,158.68) scale(0.92,1)" font-size="7.9" text-anchor="end" >0.6</text>
<text transform="translate(402.6,211.18) scale(0.92,1)" font-size="7.9" text-anchor="middle" >0.0</text>
<text transform="translate(429.56,211.18) scale(0.92,1)" font-size="7.9" text-anchor="middle" >0.2</text>
<text transform="translate(456.52,211.18) scale(0.92,1)" font-size="7.9" text-anchor="middle" >0.4</text>
<text transform="translate(483.48,211.18) scale(0.92,1)" font-size="7.9" text-anchor="middle" >0.6</text>
<text transform="translate(510.44,211.18) scale(0.92,1)" font-size="7.9" text-anchor="middle" >0.8</text>
<text transform="translate(537.4,211.18) scale(0.92,1)" font-size="7.9" text-anchor="middle" >1.0</text>
<path d="M51.7,262.35L51.7,262.35L52.11,261.43L52.52,260.25L52.92,258.85L53.33,257.06L53.74,254.76L54.15,252.08L54.56,249.17L54.96,246.18L55.37,243.26L55.78,240.56L56.19,238.23L56.6,236.14L57,234.06L57.41,232.11L57.82,230.39L58.23,229.03L58.64,228.07L59.04,227.21L59.45,226.5L59.86,226.04L60.27,225.96L60.68,226.27L61.08,226.88L61.49,227.7L61.9,228.62L62.31,230.09L62.72,232.16L63.12,234.58L63.53,237.09L63.94,239.43L64.35,241.68L64.76,244.01L65.16,246.34L65.57,248.56L65.98,250.56L66.39,252.38L66.8,254.14L67.2,255.72L67.61,256.99L68.02,257.93L68.43,258.77L68.84,259.46L69.24,259.94L69.65,260.16L70.06,260.33L70.47,260.47L70.88,260.58L71.28,260.66L71.69,260.72L72.1,260.76L72.51,260.79L72.92,260.82L73.32,260.84L73.73,260.86L74.14,260.88L74.55,260.89L74.96,260.91L75.36,260.92L75.77,260.94L76.18,260.95L76.59,260.96L77,260.97L77.4,260.99L77.81,261L78.22,261.01L78.63,261.02L79.04,261.04L79.44,261.05L79.85,261.06L80.26,261.07L80.67,261.08L81.08,261.08L81.48,261.09L81.89,261.1L82.3,261.11L82.71,261.12L83.12,261.13L83.52,261.14L83.93,261.16L84.34,261.17L84.75,261.18L85.16,261.19L85.56,261.21L85.97,261.22L86.38,261.24L86.79,261.26L87.2,261.27L87.6,261.29L88.01,261.31L88.42,261.33L88.83,261.35L89.24,261.37L89.64,261.39L90.05,261.41L90.46,261.44L90.87,261.46L91.28,261.48L91.68,261.51L92.09,261.53L92.5,261.56L92.91,261.59L93.32,261.62L93.72,261.65L94.13,261.68L94.54,261.72L94.95,261.75L95.36,261.8L95.76,261.84L96.17,261.89L96.58,261.94L96.99,261.99L97.4,262.04L97.8,262.08L98.21,262.13L98.62,262.17L99.03,262.22L99.44,262.26L99.84,262.31L100.25,262.35L100.25,262.35Z" fill="#a03cff"/>
<path d="M51.7,216.15V262.35H186.8" fill="none" stroke="#222" stroke-width="0.95"/>
<path d="M49.3,262.35H51.7M49.3,253.19H51.7M49.3,244.03H51.7M49.3,234.87H51.7M49.3,225.71H51.7M49.3,216.55H51.7M50.3,257.77H51.7M50.3,248.61H51.7M50.3,239.45H51.7M50.3,230.29H51.7M50.3,221.13H51.7M51.7,262.35V264.55M68.59,262.35V264.55M85.48,262.35V264.55M102.36,262.35V264.55M119.25,262.35V264.55M136.14,262.35V264.55M153.03,262.35V264.55M169.91,262.35V264.55M186.8,262.35V264.55M60.14,262.35V263.65M77.03,262.35V263.65M93.92,262.35V263.65M110.81,262.35V263.65M127.69,262.35V263.65M144.58,262.35V263.65M161.47,262.35V263.65M178.36,262.35V263.65" fill="none" stroke="#222" stroke-width="0.75"/>
<text transform="translate(47.3,265.15) scale(0.92,1)" font-size="7.9" text-anchor="end" >0.0</text>
<text transform="translate(47.3,255.99) scale(0.92,1)" font-size="7.9" text-anchor="end" >0.2</text>
<text transform="translate(47.3,246.83) scale(0.92,1)" font-size="7.9" text-anchor="end" >0.4</text>
<text transform="translate(47.3,237.67) scale(0.92,1)" font-size="7.9" text-anchor="end" >0.6</text>
<text transform="translate(47.3,228.51) scale(0.92,1)" font-size="7.9" text-anchor="end" >0.8</text>
<text transform="translate(47.3,219.35) scale(0.92,1)" font-size="7.9" text-anchor="end" >1.0</text>
<text transform="translate(51.7,271.85) scale(0.92,1)" font-size="7.9" text-anchor="middle" >0</text>
<text transform="translate(68.59,271.85) scale(0.92,1)" font-size="7.9" text-anchor="middle" >400</text>
<text transform="translate(85.48,271.85) scale(0.92,1)" font-size="7.9" text-anchor="middle" >800</text>
<text transform="translate(102.36,271.85) scale(0.92,1)" font-size="7.9" text-anchor="middle" >1200</text>
<text transform="translate(119.25,271.85) scale(0.92,1)" font-size="7.9" text-anchor="middle" >1600</text>
<text transform="translate(136.14,271.85) scale(0.92,1)" font-size="7.9" text-anchor="middle" >2000</text>
<text transform="translate(153.03,271.85) scale(0.92,1)" font-size="7.9" text-anchor="middle" >2400</text>
<text transform="translate(169.91,271.85) scale(0.92,1)" font-size="7.9" text-anchor="middle" >2800</text>
<text transform="translate(186.8,271.85) scale(0.92,1)" font-size="7.9" text-anchor="middle" >3200</text>
<rect x="96.96" y="254.34" width="79.96" height="8.02" fill="none" stroke="#6a78cc" stroke-width="0.95"/>
<text x="172.52" y="260.04" font-size="6.6" text-anchor="middle" fill="#555" style="stroke:#666">D</text>
<path d="M224.2,261.35L224.2,261.35L224.52,257.24L224.85,252.66L225.17,249.63L225.49,247.32L225.81,245.42L226.14,243.83L226.46,242.46L226.78,241.16L227.11,240.07L227.43,239.42L227.75,239.17L228.08,238.99L228.4,238.91L228.72,239.13L229.04,239.86L229.37,240.86L229.69,241.95L230.01,243.5L230.34,245.36L230.66,247.12L230.98,248.53L231.31,249.9L231.63,251.16L231.95,252.24L232.27,253.04L232.6,253.61L232.92,254.13L233.24,254.58L233.57,254.96L233.89,255.23L234.21,255.39L234.54,255.47L234.86,255.53L235.18,255.58L235.5,255.62L235.83,255.62L236.15,255.61L236.47,255.58L236.8,255.55L237.12,255.53L237.44,255.6L237.77,255.79L238.09,256.07L238.41,256.37L238.73,256.66L239.06,256.9L239.38,257.15L239.7,257.41L240.03,257.67L240.35,257.93L240.67,258.16L241,258.38L241.32,258.57L241.64,258.72L241.96,258.87L242.29,259.01L242.61,259.14L242.93,259.27L243.26,259.39L243.58,259.5L243.9,259.6L244.23,259.7L244.55,259.8L244.87,259.88L245.19,259.96L245.52,260.04L245.84,260.11L246.16,260.17L246.49,260.24L246.81,260.29L247.13,260.35L247.46,260.4L247.78,260.46L248.1,260.51L248.42,260.56L248.75,260.61L249.07,260.66L249.39,260.71L249.72,260.76L250.04,260.82L250.36,260.88L250.68,260.94L251.01,260.99L251.33,261.05L251.65,261.09L251.98,261.14L252.3,261.17L252.62,261.2L252.95,261.21L253.27,261.21L253.59,261.2L253.91,261.19L254.24,261.17L254.56,261.14L254.88,261.11L255.21,261.08L255.53,261.05L255.85,261.02L256.18,261L256.5,260.99L256.82,260.98L257.14,260.99L257.47,260.99L257.79,261L258.11,261.01L258.44,261.03L258.76,261.04L259.08,261.06L259.41,261.08L259.73,261.1L260.05,261.12L260.37,261.14L260.7,261.17L261.02,261.19L261.34,261.22L261.67,261.25L261.99,261.28L262.31,261.31L262.64,261.35L262.64,261.35Z" fill="#a03cff"/>
<path d="M224.2,215.15V261.35H359.4" fill="none" stroke="#222" stroke-width="0.95"/>
<path d="M221.8,261.35H224.2M221.8,252.19H224.2M221.8,243.03H224.2M221.8,233.87H224.2M221.8,224.71H224.2M221.8,215.55H224.2M222.8,256.77H224.2M222.8,247.61H224.2M222.8,238.45H224.2M222.8,229.29H224.2M222.8,220.13H224.2M224.2,261.35V263.55M243.51,261.35V263.55M262.83,261.35V263.55M282.14,261.35V263.55M301.46,261.35V263.55M320.77,261.35V263.55M340.09,261.35V263.55M359.4,261.35V263.55M233.86,261.35V262.65M253.17,261.35V262.65M272.49,261.35V262.65M291.8,261.35V262.65M311.11,261.35V262.65M330.43,261.35V262.65M349.74,261.35V262.65" fill="none" stroke="#222" stroke-width="0.75"/>
<text transform="translate(219.2,264.15) scale(0.92,1)" font-size="7.9" text-anchor="end" >0.0</text>
<text transform="translate(219.2,254.99) scale(0.92,1)" font-size="7.9" text-anchor="end" >0.2</text>
<text transform="translate(219.2,245.83) scale(0.92,1)" font-size="7.9" text-anchor="end" >0.4</text>
<text transform="translate(219.2,236.67) scale(0.92,1)" font-size="7.9" text-anchor="end" >0.6</text>
<text transform="translate(219.2,227.51) scale(0.92,1)" font-size="7.9" text-anchor="end" >0.8</text>
<text transform="translate(219.2,218.35) scale(0.92,1)" font-size="7.9" text-anchor="end" >1.0</text>
<text transform="translate(224.2,270.85) scale(0.92,1)" font-size="7.9" text-anchor="middle" >0</text>
<text transform="translate(243.51,270.85) scale(0.92,1)" font-size="7.9" text-anchor="middle" >100</text>
<text transform="translate(262.83,270.85) scale(0.92,1)" font-size="7.9" text-anchor="middle" >200</text>
<text transform="translate(282.14,270.85) scale(0.92,1)" font-size="7.9" text-anchor="middle" >300</text>
<text transform="translate(301.46,270.85) scale(0.92,1)" font-size="7.9" text-anchor="middle" >400</text>
<text transform="translate(320.77,270.85) scale(0.92,1)" font-size="7.9" text-anchor="middle" >500</text>
<text transform="translate(340.09,270.85) scale(0.92,1)" font-size="7.9" text-anchor="middle" >600</text>
<text transform="translate(359.4,270.85) scale(0.92,1)" font-size="7.9" text-anchor="middle" >700</text>
<rect x="262.64" y="252.88" width="96.76" height="8.47" fill="none" stroke="#6a78cc" stroke-width="0.95"/>
<text x="356.4" y="258.58" font-size="6.6" text-anchor="middle" fill="#555" style="stroke:#666">J</text>
<path d="M402.6,261.52L402.6,261.52L403.45,261.52L404.3,261.51L405.14,261.49L405.99,261.47L406.84,261.44L407.69,261.4L408.53,261.35L409.38,261.29L410.23,261.22L411.08,261.15L411.93,261.06L412.77,260.98L413.62,260.88L414.47,260.79L415.32,260.69L416.16,260.59L417.01,260.49L417.86,260.39L418.71,260.29L419.56,260.18L420.4,260.06L421.25,259.94L422.1,259.8L422.95,259.66L423.79,259.51L424.64,259.35L425.49,259.18L426.34,258.99L427.19,258.78L428.03,258.55L428.88,258.31L429.73,258.06L430.58,257.79L431.43,257.52L432.27,257.23L433.12,256.94L433.97,256.64L434.82,256.34L435.66,256.03L436.51,255.72L437.36,255.41L438.21,255.09L439.06,254.78L439.9,254.46L440.75,254.14L441.6,253.81L442.45,253.48L443.29,253.15L444.14,252.82L444.99,252.48L445.84,252.14L446.69,251.79L447.53,251.44L448.38,251.08L449.23,250.72L450.08,250.35L450.92,249.98L451.77,249.6L452.62,249.2L453.47,248.8L454.32,248.38L455.16,247.96L456.01,247.54L456.86,247.11L457.71,246.68L458.55,246.25L459.4,245.82L460.25,245.4L461.1,244.99L461.95,244.58L462.79,244.18L463.64,243.79L464.49,243.41L465.34,243.04L466.18,242.68L467.03,242.32L467.88,241.97L468.73,241.63L469.58,241.29L470.42,240.96L471.27,240.63L472.12,240.31L472.97,239.99L473.82,239.68L474.66,239.37L475.51,239.06L476.36,238.76L477.21,238.46L478.05,238.17L478.9,237.9L479.75,237.64L480.6,237.4L481.45,237.17L482.29,236.95L483.14,236.75L483.99,236.56L484.84,236.39L485.68,236.22L486.53,236.07L487.38,235.93L488.23,235.8L489.08,235.69L489.92,235.58L490.77,235.48L491.62,235.4L492.47,235.34L493.31,235.33L494.16,235.36L495.01,235.42L495.86,235.52L496.71,235.65L497.55,235.81L498.4,236L499.25,236.22L500.1,236.46L500.94,236.71L501.79,236.98L502.64,237.26L503.49,237.56L504.34,237.88L505.18,238.22L506.03,238.59L506.88,238.97L507.73,239.39L508.57,239.83L509.42,240.3L510.27,240.81L511.12,241.33L511.97,241.87L512.81,242.41L513.66,242.96L514.51,243.52L515.36,244.08L516.21,244.67L517.05,245.26L517.9,245.86L518.75,246.48L519.6,247.12L520.44,247.77L521.29,248.44L522.14,249.12L522.99,249.82L523.84,250.52L524.68,251.23L525.53,251.94L526.38,252.66L527.23,253.37L528.07,254.07L528.92,254.77L529.77,255.46L530.62,256.14L531.47,256.82L532.31,257.49L533.16,258.16L534.01,258.83L534.86,259.5L535.7,260.18L536.55,260.85L537.4,261.52L537.4,261.52Z" fill="#a03cff"/>
<path d="M402.6,215.32V261.52H537.4" fill="none" stroke="#222" stroke-width="0.95"/>
<path d="M400.2,261.52H402.6M400.2,246.25H402.6M400.2,230.99H402.6M400.2,215.72H402.6M401.2,253.89H402.6M401.2,238.62H402.6M401.2,223.35H402.6M402.6,261.52V263.72M429.56,261.52V263.72M456.52,261.52V263.72M483.48,261.52V263.72M510.44,261.52V263.72M537.4,261.52V263.72M416.08,261.52V262.82M443.04,261.52V262.82M470,261.52V262.82M496.96,261.52V262.82M523.92,261.52V262.82" fill="none" stroke="#222" stroke-width="0.75"/>
<text transform="translate(397.6,264.32) scale(0.92,1)" font-size="7.9" text-anchor="end" >0.0</text>
<text transform="translate(397.6,249.05) scale(0.92,1)" font-size="7.9" text-anchor="end" >0.2</text>
<text transform="translate(397.6,233.79) scale(0.92,1)" font-size="7.9" text-anchor="end" >0.4</text>
<text transform="translate(397.6,218.52) scale(0.92,1)" font-size="7.9" text-anchor="end" >0.6</text>
<text transform="translate(402.6,271.02) scale(0.92,1)" font-size="7.9" text-anchor="middle" >0.0</text>
<text transform="translate(429.56,271.02) scale(0.92,1)" font-size="7.9" text-anchor="middle" >0.2</text>
<text transform="translate(456.52,271.02) scale(0.92,1)" font-size="7.9" text-anchor="middle" >0.4</text>
<text transform="translate(483.48,271.02) scale(0.92,1)" font-size="7.9" text-anchor="middle" >0.6</text>
<text transform="translate(510.44,271.02) scale(0.92,1)" font-size="7.9" text-anchor="middle" >0.8</text>
<text transform="translate(537.4,271.02) scale(0.92,1)" font-size="7.9" text-anchor="middle" >1.0</text>
<path d="M51.7,322.25L51.7,322.25L51.86,321.47L52.03,320.67L52.19,319.85L52.35,319L52.52,318.13L52.68,317.23L52.84,316.32L53.01,315.38L53.17,314.42L53.33,313.44L53.5,312.42L53.66,311.34L53.82,310.21L53.98,309.02L54.15,307.8L54.31,306.55L54.47,305.29L54.64,304.01L54.8,302.74L54.96,301.47L55.13,300.23L55.29,299.01L55.45,297.84L55.62,296.71L55.78,295.64L55.94,294.64L56.11,293.66L56.27,292.65L56.43,291.64L56.6,290.63L56.76,289.64L56.92,288.65L57.09,287.7L57.25,286.78L57.41,285.91L57.58,285.09L57.74,284.33L57.9,283.64L58.06,283.03L58.23,282.51L58.39,282.08L58.55,281.74L58.72,281.42L58.88,281.1L59.04,280.8L59.21,280.51L59.37,280.25L59.53,280L59.7,279.78L59.86,279.59L60.02,279.44L60.19,279.32L60.35,279.24L60.51,279.2L60.68,279.21L60.84,279.29L61,279.41L61.17,279.6L61.33,279.82L61.49,280.1L61.66,280.4L61.82,280.74L61.98,281.11L62.14,281.5L62.31,281.91L62.47,282.32L62.63,282.75L62.8,283.21L62.96,283.79L63.12,284.48L63.29,285.26L63.45,286.13L63.61,287.07L63.78,288.07L63.94,289.11L64.1,290.19L64.27,291.3L64.43,292.41L64.59,293.53L64.76,294.63L64.92,295.7L65.08,296.74L65.25,297.73L65.41,298.73L65.57,299.76L65.74,300.82L65.9,301.9L66.06,302.98L66.22,304.07L66.39,305.16L66.55,306.23L66.71,307.29L66.88,308.32L67.04,309.32L67.2,310.28L67.37,311.2L67.53,312.06L67.69,312.86L67.86,313.61L68.02,314.36L68.18,315.11L68.35,315.84L68.51,316.56L68.67,317.25L68.84,317.91L69,318.54L69.16,319.11L69.33,319.63L69.49,320.1L69.65,320.49L69.82,320.81L69.98,321.07L70.14,321.33L70.3,321.56L70.47,321.78L70.63,321.96L70.79,322.1L70.96,322.2L71.12,322.25L71.12,322.25Z" fill="#858585"/>
<path d="M51.7,276.05V322.25H186.8" fill="none" stroke="#222" stroke-width="0.95"/>
<path d="M49.3,322.25H51.7M49.3,313.09H51.7M49.3,303.93H51.7M49.3,294.77H51.7M49.3,285.61H51.7M49.3,276.45H51.7M50.3,317.67H51.7M50.3,308.51H51.7M50.3,299.35H51.7M50.3,290.19H51.7M50.3,281.03H51.7M51.7,322.25V324.45M68.59,322.25V324.45M85.48,322.25V324.45M102.36,322.25V324.45M119.25,322.25V324.45M136.14,322.25V324.45M153.03,322.25V324.45M169.91,322.25V324.45M186.8,322.25V324.45M60.14,322.25V323.55M77.03,322.25V323.55M93.92,322.25V323.55M110.81,322.25V323.55M127.69,322.25V323.55M144.58,322.25V323.55M161.47,322.25V323.55M178.36,322.25V323.55" fill="none" stroke="#222" stroke-width="0.75"/>
<text transform="translate(47.3,325.05) scale(0.92,1)" font-size="7.9" text-anchor="end" >0.0</text>
<text transform="translate(47.3,315.89) scale(0.92,1)" font-size="7.9" text-anchor="end" >0.2</text>
<text transform="translate(47.3,306.73) scale(0.92,1)" font-size="7.9" text-anchor="end" >0.4</text>
<text transform="translate(47.3,297.57) scale(0.92,1)" font-size="7.9" text-anchor="end" >0.6</text>
<text transform="translate(47.3,288.41) scale(0.92,1)" font-size="7.9" text-anchor="end" >0.8</text>
<text transform="translate(47.3,279.25) scale(0.92,1)" font-size="7.9" text-anchor="end" >1.0</text>
<text transform="translate(51.7,331.75) scale(0.92,1)" font-size="7.9" text-anchor="middle" >0</text>
<text transform="translate(68.59,331.75) scale(0.92,1)" font-size="7.9" text-anchor="middle" >400</text>
<text transform="translate(85.48,331.75) scale(0.92,1)" font-size="7.9" text-anchor="middle" >800</text>
<text transform="translate(102.36,331.75) scale(0.92,1)" font-size="7.9" text-anchor="middle" >1200</text>
<text transform="translate(119.25,331.75) scale(0.92,1)" font-size="7.9" text-anchor="middle" >1600</text>
<text transform="translate(136.14,331.75) scale(0.92,1)" font-size="7.9" text-anchor="middle" >2000</text>
<text transform="translate(153.03,331.75) scale(0.92,1)" font-size="7.9" text-anchor="middle" >2400</text>
<text transform="translate(169.91,331.75) scale(0.92,1)" font-size="7.9" text-anchor="middle" >2800</text>
<text transform="translate(186.8,331.75) scale(0.92,1)" font-size="7.9" text-anchor="middle" >3200</text>
<rect x="80.41" y="313.78" width="39.35" height="8.47" fill="none" stroke="#6a78cc" stroke-width="0.95"/>
<text x="116.26" y="319.68" font-size="6.6" text-anchor="middle" fill="#555" style="stroke:#666">E</text>
<path d="M224.2,321.1L224.2,321.1L224.48,318.88L224.76,314.96L225.05,311.06L225.33,307.91L225.61,305.06L225.89,302.47L226.18,300.12L226.46,297.79L226.74,295.58L227.02,293.78L227.31,292.66L227.59,291.98L227.87,291.41L228.15,291.02L228.44,290.87L228.72,291.08L229,291.66L229.28,292.5L229.57,293.47L229.85,294.78L230.13,296.73L230.41,299.02L230.7,301.32L230.98,303.54L231.26,305.93L231.54,308.3L231.83,310.39L232.11,312.09L232.39,313.64L232.67,315.01L232.95,316.12L233.24,316.95L233.52,317.72L233.8,318.36L234.08,318.74L234.37,318.81L234.65,318.79L234.93,318.75L235.21,318.7L235.5,318.64L235.78,318.58L236.06,318.5L236.34,318.39L236.63,318.25L236.91,318.12L237.19,318L237.47,317.92L237.76,317.89L238.04,317.91L238.32,317.96L238.6,318.02L238.89,318.1L239.17,318.19L239.45,318.29L239.73,318.38L240.01,318.5L240.3,318.64L240.58,318.79L240.86,318.96L241.14,319.12L241.43,319.27L241.71,319.4L241.99,319.5L242.27,319.59L242.56,319.66L242.84,319.74L243.12,319.81L243.4,319.87L243.69,319.93L243.97,319.99L244.25,320.04L244.53,320.09L244.82,320.13L245.1,320.17L245.38,320.2L245.66,320.23L245.95,320.25L246.23,320.28L246.51,320.3L246.79,320.32L247.08,320.34L247.36,320.36L247.64,320.38L247.92,320.4L248.2,320.42L248.49,320.44L248.77,320.46L249.05,320.48L249.33,320.5L249.62,320.53L249.9,320.55L250.18,320.57L250.46,320.59L250.75,320.62L251.03,320.64L251.31,320.67L251.59,320.69L251.88,320.72L252.16,320.75L252.44,320.78L252.72,320.81L253.01,320.84L253.29,320.87L253.57,320.89L253.85,320.91L254.14,320.93L254.42,320.95L254.7,320.96L254.98,320.98L255.27,321L255.55,321.01L255.83,321.03L256.11,321.04L256.39,321.05L256.68,321.07L256.96,321.08L257.24,321.09L257.52,321.09L257.81,321.1L257.81,321.1Z" fill="#858585"/>
<path d="M224.2,274.9V321.1H359.4" fill="none" stroke="#222" stroke-width="0.95"/>
<path d="M221.8,321.1H224.2M221.8,311.94H224.2M221.8,302.78H224.2M221.8,293.62H224.2M221.8,284.46H224.2M221.8,275.3H224.2M222.8,316.52H224.2M222.8,307.36H224.2M222.8,298.2H224.2M222.8,289.04H224.2M222.8,279.88H224.2M224.2,321.1V323.3M243.51,321.1V323.3M262.83,321.1V323.3M282.14,321.1V323.3M301.46,321.1V323.3M320.77,321.1V323.3M340.09,321.1V323.3M359.4,321.1V323.3M233.86,321.1V322.4M253.17,321.1V322.4M272.49,321.1V322.4M291.8,321.1V322.4M311.11,321.1V322.4M330.43,321.1V322.4M349.74,321.1V322.4" fill="none" stroke="#222" stroke-width="0.75"/>
<text transform="translate(219.2,323.9) scale(0.92,1)" font-size="7.9" text-anchor="end" >0.0</text>
<text transform="translate(219.2,314.74) scale(0.92,1)" font-size="7.9" text-anchor="end" >0.2</text>
<text transform="translate(219.2,305.58) scale(0.92,1)" font-size="7.9" text-anchor="end" >0.4</text>
<text transform="translate(219.2,296.42) scale(0.92,1)" font-size="7.9" text-anchor="end" >0.6</text>
<text transform="translate(219.2,287.26) scale(0.92,1)" font-size="7.9" text-anchor="end" >0.8</text>
<text transform="translate(219.2,278.1) scale(0.92,1)" font-size="7.9" text-anchor="end" >1.0</text>
<text transform="translate(224.2,330.6) scale(0.92,1)" font-size="7.9" text-anchor="middle" >0</text>
<text transform="translate(243.51,330.6) scale(0.92,1)" font-size="7.9" text-anchor="middle" >100</text>
<text transform="translate(262.83,330.6) scale(0.92,1)" font-size="7.9" text-anchor="middle" >200</text>
<text transform="translate(282.14,330.6) scale(0.92,1)" font-size="7.9" text-anchor="middle" >300</text>
<text transform="translate(301.46,330.6) scale(0.92,1)" font-size="7.9" text-anchor="middle" >400</text>
<text transform="translate(320.77,330.6) scale(0.92,1)" font-size="7.9" text-anchor="middle" >500</text>
<text transform="translate(340.09,330.6) scale(0.92,1)" font-size="7.9" text-anchor="middle" >600</text>
<text transform="translate(359.4,330.6) scale(0.92,1)" font-size="7.9" text-anchor="middle" >700</text>
<rect x="252.4" y="312.4" width="48.87" height="8.7" fill="none" stroke="#6a78cc" stroke-width="0.95"/>
<text x="298.26" y="318.2" font-size="6.6" text-anchor="middle" fill="#555" style="stroke:#666">K</text>
<path d="M402.6,321.36L402.6,321.36L403.45,321.33L404.3,321.28L405.14,321.21L405.99,321.12L406.84,321.02L407.69,320.89L408.53,320.75L409.38,320.59L410.23,320.41L411.08,320.22L411.93,320.01L412.77,319.78L413.62,319.53L414.47,319.27L415.32,318.97L416.16,318.66L417.01,318.32L417.86,317.98L418.71,317.64L419.56,317.29L420.4,316.93L421.25,316.56L422.1,316.19L422.95,315.8L423.79,315.41L424.64,315.01L425.49,314.6L426.34,314.18L427.19,313.75L428.03,313.32L428.88,312.88L429.73,312.44L430.58,312L431.43,311.56L432.27,311.12L433.12,310.69L433.97,310.27L434.82,309.85L435.66,309.44L436.51,309.05L437.36,308.66L438.21,308.28L439.06,307.89L439.9,307.51L440.75,307.13L441.6,306.75L442.45,306.36L443.29,305.98L444.14,305.58L444.99,305.19L445.84,304.79L446.69,304.4L447.53,304L448.38,303.6L449.23,303.2L450.08,302.81L450.92,302.41L451.77,302.03L452.62,301.67L453.47,301.32L454.32,300.98L455.16,300.65L456.01,300.34L456.86,300.03L457.71,299.73L458.55,299.44L459.4,299.16L460.25,298.9L461.1,298.66L461.95,298.45L462.79,298.26L463.64,298.09L464.49,297.94L465.34,297.81L466.18,297.7L467.03,297.6L467.88,297.52L468.73,297.46L469.58,297.41L470.42,297.37L471.27,297.35L472.12,297.33L472.97,297.33L473.82,297.33L474.66,297.36L475.51,297.4L476.36,297.45L477.21,297.53L478.05,297.62L478.9,297.74L479.75,297.88L480.6,298.04L481.45,298.22L482.29,298.4L483.14,298.59L483.99,298.79L484.84,298.99L485.68,299.19L486.53,299.4L487.38,299.61L488.23,299.83L489.08,300.06L489.92,300.29L490.77,300.52L491.62,300.76L492.47,301.02L493.31,301.28L494.16,301.55L495.01,301.82L495.86,302.1L496.71,302.38L497.55,302.65L498.4,302.92L499.25,303.18L500.1,303.42L500.94,303.65L501.79,303.86L502.64,304.06L503.49,304.26L504.34,304.45L505.18,304.63L506.03,304.81L506.88,304.99L507.73,305.16L508.57,305.34L509.42,305.51L510.27,305.68L511.12,305.85L511.97,306.01L512.81,306.17L513.66,306.33L514.51,306.49L515.36,306.64L516.21,306.8L517.05,306.96L517.9,307.12L518.75,307.28L519.6,307.44L520.44,307.62L521.29,307.82L522.14,308.06L522.99,308.36L523.84,308.72L524.68,309.18L525.53,309.76L526.38,310.42L527.23,311.15L528.07,311.94L528.92,312.77L529.77,313.61L530.62,314.45L531.47,315.28L532.31,316.11L533.16,316.95L534.01,317.8L534.86,318.66L535.7,319.54L536.55,320.44L537.4,321.36L537.4,321.36Z" fill="#858585"/>
<path d="M402.6,275.16V321.36H537.4" fill="none" stroke="#222" stroke-width="0.95"/>
<path d="M400.2,321.36H402.6M400.2,306.09H402.6M400.2,290.83H402.6M400.2,275.56H402.6M401.2,313.73H402.6M401.2,298.46H402.6M401.2,283.19H402.6M402.6,321.36V323.56M429.56,321.36V323.56M456.52,321.36V323.56M483.48,321.36V323.56M510.44,321.36V323.56M537.4,321.36V323.56M416.08,321.36V322.66M443.04,321.36V322.66M470,321.36V322.66M496.96,321.36V322.66M523.92,321.36V322.66" fill="none" stroke="#222" stroke-width="0.75"/>
<text transform="translate(397.6,324.16) scale(0.92,1)" font-size="7.9" text-anchor="end" >0.0</text>
<text transform="translate(397.6,308.89) scale(0.92,1)" font-size="7.9" text-anchor="end" >0.2</text>
<text transform="translate(397.6,293.63) scale(0.92,1)" font-size="7.9" text-anchor="end" >0.4</text>
<text transform="translate(397.6,278.36) scale(0.92,1)" font-size="7.9" text-anchor="end" >0.6</text>
<text transform="translate(402.6,330.86) scale(0.92,1)" font-size="7.9" text-anchor="middle" >0.0</text>
<text transform="translate(429.56,330.86) scale(0.92,1)" font-size="7.9" text-anchor="middle" >0.2</text>
<text transform="translate(456.52,330.86) scale(0.92,1)" font-size="7.9" text-anchor="middle" >0.4</text>
<text transform="translate(483.48,330.86) scale(0.92,1)" font-size="7.9" text-anchor="middle" >0.6</text>
<text transform="translate(510.44,330.86) scale(0.92,1)" font-size="7.9" text-anchor="middle" >0.8</text>
<text transform="translate(537.4,330.86) scale(0.92,1)" font-size="7.9" text-anchor="middle" >1.0</text>
<path d="M51.7,382.15L51.7,382.15L51.86,381.37L52.03,380.57L52.19,379.75L52.35,378.9L52.52,378.03L52.68,377.13L52.84,376.22L53.01,375.28L53.17,374.32L53.33,373.34L53.5,372.32L53.66,371.24L53.82,370.11L53.98,368.92L54.15,367.7L54.31,366.45L54.47,365.19L54.64,363.91L54.8,362.64L54.96,361.37L55.13,360.13L55.29,358.91L55.45,357.74L55.62,356.61L55.78,355.54L55.94,354.54L56.11,353.55L56.27,352.54L56.43,351.52L56.6,350.5L56.76,349.48L56.92,348.49L57.09,347.52L57.25,346.59L57.41,345.71L57.58,344.88L57.74,344.12L57.9,343.44L58.06,342.85L58.23,342.36L58.39,341.97L58.55,341.67L58.72,341.4L58.88,341.13L59.04,340.87L59.21,340.63L59.37,340.41L59.53,340.21L59.7,340.03L59.86,339.88L60.02,339.75L60.19,339.65L60.35,339.59L60.51,339.56L60.68,339.57L60.84,339.64L61,339.77L61.17,339.95L61.33,340.18L61.49,340.45L61.66,340.76L61.82,341.1L61.98,341.46L62.14,341.85L62.31,342.26L62.47,342.68L62.63,343.11L62.8,343.58L62.96,344.17L63.12,344.87L63.29,345.68L63.45,346.58L63.61,347.55L63.78,348.59L63.94,349.67L64.1,350.79L64.27,351.94L64.43,353.09L64.59,354.24L64.76,355.38L64.92,356.48L65.08,357.54L65.25,358.55L65.41,359.57L65.57,360.62L65.74,361.7L65.9,362.79L66.06,363.9L66.22,365.01L66.39,366.11L66.55,367.2L66.71,368.26L66.88,369.29L67.04,370.28L67.2,371.23L67.37,372.12L67.53,372.94L67.69,373.69L67.86,374.38L68.02,375.06L68.18,375.73L68.35,376.37L68.51,377L68.67,377.6L68.84,378.17L69,378.7L69.16,379.2L69.33,379.65L69.49,380.06L69.65,380.41L69.82,380.71L69.98,380.97L70.14,381.21L70.3,381.44L70.47,381.64L70.63,381.82L70.79,381.97L70.96,382.08L71.12,382.15L71.12,382.15Z" fill="#ff8800"/>
<path d="M75.34,382.15L75.34,382.15L75.52,382.12L75.69,382.08L75.86,382.04L76.04,382.01L76.21,381.97L76.39,381.94L76.56,381.91L76.73,381.87L76.91,381.84L77.08,381.81L77.25,381.78L77.43,381.75L77.6,381.72L77.78,381.7L77.95,381.68L78.12,381.66L78.3,381.64L78.47,381.63L78.65,381.61L78.82,381.61L78.99,381.6L79.17,381.6L79.34,381.6L79.51,381.6L79.69,381.6L79.86,381.6L80.04,381.6L80.21,381.6L80.38,381.6L80.56,381.6L80.73,381.6L80.91,381.6L81.08,381.6L81.25,381.6L81.43,381.6L81.6,381.6L81.77,381.6L81.95,381.6L82.12,381.6L82.3,381.6L82.47,381.6L82.64,381.6L82.82,381.6L82.99,381.6L83.17,381.6L83.34,381.6L83.51,381.6L83.69,381.6L83.86,381.6L84.03,381.6L84.21,381.6L84.38,381.6L84.56,381.6L84.73,381.6L84.9,381.6L85.08,381.6L85.25,381.6L85.43,381.6L85.6,381.6L85.77,381.6L85.95,381.6L86.12,381.6L86.29,381.6L86.47,381.61L86.64,381.61L86.82,381.61L86.99,381.61L87.16,381.62L87.34,381.62L87.51,381.63L87.69,381.63L87.86,381.63L88.03,381.64L88.21,381.64L88.38,381.65L88.55,381.65L88.73,381.66L88.9,381.67L89.08,381.67L89.25,381.68L89.42,381.68L89.6,381.69L89.77,381.7L89.95,381.7L90.12,381.71L90.29,381.72L90.47,381.73L90.64,381.73L90.81,381.74L90.99,381.75L91.16,381.75L91.34,381.76L91.51,381.77L91.68,381.78L91.86,381.79L92.03,381.79L92.21,381.8L92.38,381.81L92.55,381.82L92.73,381.84L92.9,381.85L93.07,381.86L93.25,381.87L93.42,381.89L93.6,381.9L93.77,381.92L93.94,381.93L94.12,381.95L94.29,381.97L94.47,381.98L94.64,382L94.81,382.02L94.99,382.04L95.16,382.06L95.33,382.07L95.51,382.09L95.68,382.11L95.86,382.13L96.03,382.15L96.03,382.15Z" fill="#ff8800"/>
<path d="M51.7,335.95V382.15H186.8" fill="none" stroke="#222" stroke-width="0.95"/>
<path d="M49.3,382.15H51.7M49.3,372.99H51.7M49.3,363.83H51.7M49.3,354.67H51.7M49.3,345.51H51.7M49.3,336.35H51.7M50.3,377.57H51.7M50.3,368.41H51.7M50.3,359.25H51.7M50.3,350.09H51.7M50.3,340.93H51.7M51.7,382.15V384.35M68.59,382.15V384.35M85.48,382.15V384.35M102.36,382.15V384.35M119.25,382.15V384.35M136.14,382.15V384.35M153.03,382.15V384.35M169.91,382.15V384.35M186.8,382.15V384.35M60.14,382.15V383.45M77.03,382.15V383.45M93.92,382.15V383.45M110.81,382.15V383.45M127.69,382.15V383.45M144.58,382.15V383.45M161.47,382.15V383.45M178.36,382.15V383.45" fill="none" stroke="#222" stroke-width="0.75"/>
<text transform="translate(47.3,384.95) scale(0.92,1)" font-size="7.9" text-anchor="end" >0.0</text>
<text transform="translate(47.3,375.79) scale(0.92,1)" font-size="7.9" text-anchor="end" >0.2</text>
<text transform="translate(47.3,366.63) scale(0.92,1)" font-size="7.9" text-anchor="end" >0.4</text>
<text transform="translate(47.3,357.47) scale(0.92,1)" font-size="7.9" text-anchor="end" >0.6</text>
<text transform="translate(47.3,348.31) scale(0.92,1)" font-size="7.9" text-anchor="end" >0.8</text>
<text transform="translate(47.3,339.15) scale(0.92,1)" font-size="7.9" text-anchor="end" >1.0</text>
<text transform="translate(51.7,391.65) scale(0.92,1)" font-size="7.9" text-anchor="middle" >0</text>
<text transform="translate(68.59,391.65) scale(0.92,1)" font-size="7.9" text-anchor="middle" >400</text>
<text transform="translate(85.48,391.65) scale(0.92,1)" font-size="7.9" text-anchor="middle" >800</text>
<text transform="translate(102.36,391.65) scale(0.92,1)" font-size="7.9" text-anchor="middle" >1200</text>
<text transform="translate(119.25,391.65) scale(0.92,1)" font-size="7.9" text-anchor="middle" >1600</text>
<text transform="translate(136.14,391.65) scale(0.92,1)" font-size="7.9" text-anchor="middle" >2000</text>
<text transform="translate(153.03,391.65) scale(0.92,1)" font-size="7.9" text-anchor="middle" >2400</text>
<text transform="translate(169.91,391.65) scale(0.92,1)" font-size="7.9" text-anchor="middle" >2800</text>
<text transform="translate(186.8,391.65) scale(0.92,1)" font-size="7.9" text-anchor="middle" >3200</text>
<rect x="93.75" y="373.45" width="77.13" height="8.7" fill="none" stroke="#6a78cc" stroke-width="0.95"/>
<text x="167.58" y="379.25" font-size="6.6" text-anchor="middle" fill="#555" style="stroke:#666">F</text>
<path d="M224.2,380.85L224.2,380.85L224.45,378.95L224.7,375.74L224.95,371.97L225.2,369.06L225.45,366.38L225.7,363.93L225.95,361.71L226.2,359.71L226.45,357.76L226.7,355.9L226.95,354.32L227.2,353.18L227.45,352.52L227.7,351.96L227.95,351.5L228.2,351.19L228.45,351.08L228.7,351.26L228.95,351.74L229.2,352.44L229.45,353.27L229.7,354.19L229.95,355.53L230.2,357.26L230.45,359.18L230.7,361.11L230.95,363.02L231.2,365.12L231.45,367.25L231.7,369.25L231.95,370.91L232.2,372.41L232.45,373.85L232.7,375.09L232.95,375.98L233.2,376.44L233.45,376.79L233.7,377.09L233.95,377.34L234.2,377.52L234.45,377.62L234.7,377.64L234.95,377.59L235.2,377.49L235.45,377.35L235.7,377.2L235.95,377.04L236.2,376.89L236.45,376.77L236.7,376.68L236.95,376.6L237.2,376.52L237.45,376.45L237.7,376.38L237.95,376.32L238.2,376.29L238.45,376.27L238.7,376.29L238.95,376.35L239.2,376.44L239.45,376.57L239.7,376.72L239.95,376.87L240.2,377.04L240.45,377.2L240.7,377.39L240.95,377.62L241.2,377.89L241.45,378.16L241.7,378.43L241.95,378.68L242.2,378.9L242.45,379.08L242.7,379.24L242.95,379.4L243.2,379.54L243.45,379.68L243.7,379.81L243.95,379.93L244.2,380.03L244.45,380.11L244.7,380.17L244.95,380.22L245.2,380.26L245.45,380.3L245.7,380.34L245.95,380.37L246.2,380.4L246.45,380.43L246.7,380.45L246.95,380.47L247.2,380.48L247.45,380.5L247.7,380.51L247.95,380.52L248.2,380.53L248.45,380.54L248.7,380.55L248.95,380.56L249.19,380.57L249.44,380.57L249.69,380.58L249.94,380.59L250.19,380.59L250.44,380.6L250.69,380.61L250.94,380.62L251.19,380.63L251.44,380.64L251.69,380.65L251.94,380.66L252.19,380.68L252.44,380.7L252.69,380.72L252.94,380.74L253.19,380.77L253.44,380.79L253.69,380.82L253.94,380.85L253.94,380.85Z" fill="#ff8800"/>
<path d="M224.2,334.65V380.85H359.4" fill="none" stroke="#222" stroke-width="0.95"/>
<path d="M221.8,380.85H224.2M221.8,371.69H224.2M221.8,362.53H224.2M221.8,353.37H224.2M221.8,344.21H224.2M221.8,335.05H224.2M222.8,376.27H224.2M222.8,367.11H224.2M222.8,357.95H224.2M222.8,348.79H224.2M222.8,339.63H224.2M224.2,380.85V383.05M243.51,380.85V383.05M262.83,380.85V383.05M282.14,380.85V383.05M301.46,380.85V383.05M320.77,380.85V383.05M340.09,380.85V383.05M359.4,380.85V383.05M233.86,380.85V382.15M253.17,380.85V382.15M272.49,380.85V382.15M291.8,380.85V382.15M311.11,380.85V382.15M330.43,380.85V382.15M349.74,380.85V382.15" fill="none" stroke="#222" stroke-width="0.75"/>
<text transform="translate(219.2,383.65) scale(0.92,1)" font-size="7.9" text-anchor="end" >0.0</text>
<text transform="translate(219.2,374.49) scale(0.92,1)" font-size="7.9" text-anchor="end" >0.2</text>
<text transform="translate(219.2,365.33) scale(0.92,1)" font-size="7.9" text-anchor="end" >0.4</text>
<text transform="translate(219.2,356.17) scale(0.92,1)" font-size="7.9" text-anchor="end" >0.6</text>
<text transform="translate(219.2,347.01) scale(0.92,1)" font-size="7.9" text-anchor="end" >0.8</text>
<text transform="translate(219.2,337.85) scale(0.92,1)" font-size="7.9" text-anchor="end" >1.0</text>
<text transform="translate(224.2,390.35) scale(0.92,1)" font-size="7.9" text-anchor="middle" >0</text>
<text transform="translate(243.51,390.35) scale(0.92,1)" font-size="7.9" text-anchor="middle" >100</text>
<text transform="translate(262.83,390.35) scale(0.92,1)" font-size="7.9" text-anchor="middle" >200</text>
<text transform="translate(282.14,390.35) scale(0.92,1)" font-size="7.9" text-anchor="middle" >300</text>
<text transform="translate(301.46,390.35) scale(0.92,1)" font-size="7.9" text-anchor="middle" >400</text>
<text transform="translate(320.77,390.35) scale(0.92,1)" font-size="7.9" text-anchor="middle" >500</text>
<text transform="translate(340.09,390.35) scale(0.92,1)" font-size="7.9" text-anchor="middle" >600</text>
<text transform="translate(359.4,390.35) scale(0.92,1)" font-size="7.9" text-anchor="middle" >700</text>
<rect x="252.21" y="372.15" width="49.25" height="8.7" fill="none" stroke="#6a78cc" stroke-width="0.95"/>
<text x="298.46" y="377.95" font-size="6.6" text-anchor="middle" fill="#555" style="stroke:#666">L</text>
<path d="M402.6,381.2L402.6,381.2L403.45,380.97L404.3,380.74L405.14,380.51L405.99,380.28L406.84,380.05L407.69,379.82L408.53,379.59L409.38,379.35L410.23,379.11L411.08,378.87L411.93,378.63L412.77,378.38L413.62,378.13L414.47,377.88L415.32,377.62L416.16,377.36L417.01,377.09L417.86,376.83L418.71,376.56L419.56,376.3L420.4,376.04L421.25,375.77L422.1,375.51L422.95,375.24L423.79,374.98L424.64,374.72L425.49,374.45L426.34,374.19L427.19,373.92L428.03,373.66L428.88,373.4L429.73,373.13L430.58,372.87L431.43,372.6L432.27,372.34L433.12,372.08L433.97,371.81L434.82,371.55L435.66,371.28L436.51,371.02L437.36,370.76L438.21,370.49L439.06,370.23L439.9,369.96L440.75,369.7L441.6,369.44L442.45,369.17L443.29,368.91L444.14,368.64L444.99,368.37L445.84,368.09L446.69,367.81L447.53,367.53L448.38,367.24L449.23,366.95L450.08,366.66L450.92,366.37L451.77,366.07L452.62,365.78L453.47,365.48L454.32,365.18L455.16,364.88L456.01,364.59L456.86,364.29L457.71,363.97L458.55,363.64L459.4,363.3L460.25,362.94L461.1,362.58L461.95,362.21L462.79,361.83L463.64,361.45L464.49,361.07L465.34,360.68L466.18,360.3L467.03,359.93L467.88,359.56L468.73,359.2L469.58,358.85L470.42,358.52L471.27,358.2L472.12,357.92L472.97,357.66L473.82,357.42L474.66,357.22L475.51,357.04L476.36,356.9L477.21,356.79L478.05,356.73L478.9,356.71L479.75,356.74L480.6,356.82L481.45,356.94L482.29,357.1L483.14,357.3L483.99,357.54L484.84,357.81L485.68,358.11L486.53,358.44L487.38,358.79L488.23,359.17L489.08,359.56L489.92,359.96L490.77,360.37L491.62,360.79L492.47,361.21L493.31,361.62L494.16,362.03L495.01,362.42L495.86,362.8L496.71,363.16L497.55,363.5L498.4,363.84L499.25,364.17L500.1,364.5L500.94,364.81L501.79,365.12L502.64,365.41L503.49,365.68L504.34,365.93L505.18,366.16L506.03,366.37L506.88,366.54L507.73,366.69L508.57,366.79L509.42,366.83L510.27,366.8L511.12,366.73L511.97,366.63L512.81,366.49L513.66,366.34L514.51,366.18L515.36,366.02L516.21,365.86L517.05,365.61L517.9,365.31L518.75,364.98L519.6,364.68L520.44,364.45L521.29,364.33L522.14,364.3L522.99,364.41L523.84,364.65L524.68,365.06L525.53,365.65L526.38,366.44L527.23,367.4L528.07,368.4L528.92,369.45L529.77,370.54L530.62,371.66L531.47,372.81L532.31,373.99L533.16,375.17L534.01,376.35L534.86,377.54L535.7,378.74L536.55,379.95L537.4,381.2L537.4,381.2Z" fill="#ff8800"/>
<path d="M402.6,335V381.2H537.4" fill="none" stroke="#222" stroke-width="0.95"/>
<path d="M400.2,381.2H402.6M400.2,365.93H402.6M400.2,350.67H402.6M400.2,335.4H402.6M401.2,373.57H402.6M401.2,358.3H402.6M401.2,343.03H402.6M402.6,381.2V383.4M429.56,381.2V383.4M456.52,381.2V383.4M483.48,381.2V383.4M510.44,381.2V383.4M537.4,381.2V383.4M416.08,381.2V382.5M443.04,381.2V382.5M470,381.2V382.5M496.96,381.2V382.5M523.92,381.2V382.5" fill="none" stroke="#222" stroke-width="0.75"/>
<text transform="translate(397.6,384) scale(0.92,1)" font-size="7.9" text-anchor="end" >0.0</text>
<text transform="translate(397.6,368.73) scale(0.92,1)" font-size="7.9" text-anchor="end" >0.2</text>
<text transform="translate(397.6,353.47) scale(0.92,1)" font-size="7.9" text-anchor="end" >0.4</text>
<text transform="translate(397.6,338.2) scale(0.92,1)" font-size="7.9" text-anchor="end" >0.6</text>
<text transform="translate(402.6,390.7) scale(0.92,1)" font-size="7.9" text-anchor="middle" >0.0</text>
<text transform="translate(429.56,390.7) scale(0.92,1)" font-size="7.9" text-anchor="middle" >0.2</text>
<text transform="translate(456.52,390.7) scale(0.92,1)" font-size="7.9" text-anchor="middle" >0.4</text>
<text transform="translate(483.48,390.7) scale(0.92,1)" font-size="7.9" text-anchor="middle" >0.6</text>
<text transform="translate(510.44,390.7) scale(0.92,1)" font-size="7.9" text-anchor="middle" >0.8</text>
<text transform="translate(537.4,390.7) scale(0.92,1)" font-size="7.9" text-anchor="middle" >1.0</text>
<rect x="117" y="43.4" width="68.9" height="18.2" fill="#fff"/>
<path d="M117,61.6L117,46.68L117.71,47.15L118.42,47.65L119.14,48.18L119.85,48.74L120.56,49.35L121.27,50.06L121.98,50.8L122.69,51.51L123.41,52.12L124.12,52.56L124.83,52.93L125.54,53.29L126.25,53.59L126.97,53.82L127.68,53.94L128.39,53.96L129.1,53.95L129.81,53.95L130.53,53.94L131.24,53.93L131.95,53.92L132.66,53.91L133.37,53.9L134.08,53.89L134.8,53.87L135.51,53.86L136.22,53.85L136.93,53.83L137.64,53.82L138.36,53.8L139.07,53.79L139.78,53.78L140.49,53.77L141.2,53.75L141.92,53.74L142.63,53.72L143.34,53.7L144.05,53.68L144.76,53.67L145.47,53.65L146.19,53.64L146.9,53.62L147.61,53.61L148.32,53.6L149.03,53.6L149.75,53.59L150.46,53.61L151.17,53.7L151.88,53.87L152.59,54.09L153.31,54.37L154.02,54.69L154.73,55.32L155.44,56.34L156.15,57.54L156.86,58.68L157.58,59.66L158.29,60.63L159,61.6L159,61.6Z" fill="#ff0000"/>
<path d="M168.6,61.6L168.6,61.6L168.87,60.85L169.15,60.1L169.42,59.36L169.7,58.62L169.97,57.89L170.25,57.17L170.52,56.46L170.8,55.75L171.07,55.05L171.35,54.3L171.62,53.51L171.89,52.7L172.17,51.89L172.44,51.09L172.72,50.33L172.99,49.64L173.27,49.02L173.54,48.51L173.82,48.13L174.09,47.88L174.37,47.67L174.64,47.48L174.92,47.3L175.19,47.14L175.46,46.99L175.74,46.87L176.01,46.78L176.29,46.71L176.56,46.68L176.84,46.69L177.11,46.76L177.39,46.9L177.66,47.1L177.94,47.34L178.21,47.61L178.48,47.91L178.76,48.22L179.03,48.54L179.31,48.92L179.58,49.39L179.86,49.94L180.13,50.55L180.41,51.21L180.68,51.91L180.96,52.62L181.23,53.34L181.51,54.04L181.78,54.72L182.05,55.35L182.33,55.97L182.6,56.6L182.88,57.22L183.15,57.84L183.43,58.47L183.7,59.09L183.98,59.72L184.25,60.34L184.53,60.97L184.8,61.6L184.8,61.6Z" fill="#ff0000"/>
<path d="M117,43.4H185.9V61.6" fill="none" stroke="#8a8a8a" stroke-width="0.8"/>
<path d="M117,43.4V61.6H185.9" fill="none" stroke="#555" stroke-width="0.8"/>
<path d="M118.3,61.6V60M151.4,61.6V60" stroke="#444" stroke-width="0.7" fill="none"/>
<text x="113.2" y="47.62" font-size="7.1" text-anchor="end" >0.02</text>
<text x="113.2" y="64" font-size="7.1" text-anchor="end" >0.00</text>
<text x="118.3" y="69.8" font-size="7.1" text-anchor="middle" >1200</text>
<text x="151.4" y="69.8" font-size="7.1" text-anchor="middle" >2000</text>
<text x="185.9" y="69.8" font-size="7.1" text-anchor="middle" >2800</text>
<text x="183.3" y="48.4" font-size="5.8" text-anchor="middle" fill="#555" style="stroke:#666">A</text>
<rect x="113.4" y="101.7" width="22.9" height="18.8" fill="#fff"/>
<path d="M113.4,120.5L113.4,120.5L113.79,119.09L114.18,117.7L114.56,116.34L114.95,115.02L115.34,113.67L115.73,112.24L116.12,110.81L116.51,109.46L116.89,108.28L117.28,107.35L117.67,106.71L118.06,106.15L118.45,105.65L118.83,105.22L119.22,104.9L119.61,104.73L120,104.75L120.39,105.01L120.77,105.46L121.16,106.03L121.55,106.65L121.94,107.25L122.33,107.83L122.72,108.48L123.1,109.18L123.49,109.91L123.88,110.64L124.27,111.36L124.66,112.04L125.04,112.67L125.43,113.27L125.82,113.87L126.21,114.46L126.6,115.02L126.98,115.56L127.37,116.05L127.76,116.5L128.15,116.88L128.54,117.25L128.93,117.59L129.31,117.92L129.7,118.22L130.09,118.49L130.48,118.73L130.87,118.93L131.25,119.11L131.64,119.27L132.03,119.42L132.42,119.56L132.81,119.68L133.19,119.78L133.58,119.87L133.97,119.93L134.36,119.98L134.75,120.03L135.14,120.07L135.52,120.1L135.91,120.12L136.3,120.12L136.3,120.5Z" fill="#068a08"/>
<path d="M113.4,101.7H136.3V120.5" fill="none" stroke="#8a8a8a" stroke-width="0.8"/>
<path d="M113.4,101.7V120.5H136.3" fill="none" stroke="#555" stroke-width="0.8"/>
<path d="M124.6,120.5V118.9M135.2,120.5V118.9" stroke="#444" stroke-width="0.7" fill="none"/>
<text x="112.1" y="105.98" font-size="7.1" text-anchor="end" >0.8</text>
<text x="112.1" y="114.44" font-size="7.1" text-anchor="end" >0.4</text>
<text x="112.1" y="122.9" font-size="7.1" text-anchor="end" >0.0</text>
<text x="113.7" y="129" font-size="7.1" text-anchor="middle" >0</text>
<text x="124.6" y="129" font-size="7.1" text-anchor="middle" >8</text>
<text x="135.2" y="129" font-size="7.1" text-anchor="middle" >16</text>
<text x="133.7" y="106.7" font-size="5.8" text-anchor="middle" fill="#555" style="stroke:#666">B</text>
<rect x="152.2" y="101.7" width="49.1" height="18.6" fill="#fff"/>
<path d="M152.2,120.3L152.2,111.74L152.5,111.79L152.8,111.84L153.09,111.88L153.39,111.9L153.69,111.92L153.99,111.93L154.29,111.93L154.59,111.92L154.88,111.91L155.18,111.89L155.48,111.87L155.78,111.84L156.08,111.8L156.38,111.76L156.67,111.66L156.97,111.29L157.27,110.72L157.57,110.06L157.87,109.4L158.17,108.82L158.46,108.23L158.76,107.61L159.06,106.98L159.36,106.35L159.66,105.73L159.96,105.13L160.25,104.49L160.55,103.76L160.85,103.06L161.15,102.52L161.45,102.26L161.75,102.36L162.04,102.7L162.34,103.21L162.64,103.79L162.94,104.38L163.24,104.94L163.54,105.58L163.83,106.28L164.13,107.01L164.43,107.75L164.73,108.49L165.03,109.2L165.33,109.9L165.62,110.59L165.92,111.28L166.22,111.98L166.52,112.67L166.82,113.36L167.12,114.06L167.41,114.75L167.71,115.45L168.01,116.14L168.31,116.83L168.61,117.53L168.91,118.22L169.2,118.91L169.5,119.61L169.8,120.3L169.8,120.3Z" fill="#068a08"/>
<path d="M192.4,120.3L192.4,120.3L192.5,119.88L192.6,119.46L192.7,119.05L192.8,118.65L192.9,118.26L193,117.88L193.1,117.52L193.2,117.16L193.3,116.81L193.4,116.47L193.5,116.15L193.6,115.84L193.7,115.54L193.8,115.25L193.9,114.98L194,114.72L194.1,114.46L194.2,114.2L194.3,113.92L194.4,113.65L194.5,113.39L194.6,113.13L194.7,112.88L194.8,112.66L194.9,112.45L195,112.28L195.1,112.13L195.2,112.02L195.3,111.95L195.4,111.93L195.5,111.96L195.6,112.04L195.7,112.17L195.8,112.34L195.9,112.54L196,112.77L196.1,113.03L196.2,113.3L196.3,113.58L196.4,113.87L196.5,114.16L196.6,114.45L196.7,114.72L196.8,114.99L196.9,115.27L197,115.56L197.1,115.87L197.2,116.18L197.3,116.51L197.4,116.85L197.5,117.19L197.6,117.55L197.7,117.91L197.8,118.29L197.9,118.67L198,119.07L198.1,119.47L198.2,119.88L198.3,120.3L198.3,120.3Z" fill="#068a08"/>
<path d="M152.2,101.7H201.3V120.3" fill="none" stroke="#8a8a8a" stroke-width="0.8"/>
<path d="M152.2,101.7V120.3H201.3" fill="none" stroke="#555" stroke-width="0.8"/>
<path d="M163.4,120.3V118.7M172.8,120.3V118.7M189.8,120.3V118.7" stroke="#444" stroke-width="0.7" fill="none"/>
<text x="151.7" y="105.59" font-size="7.1" text-anchor="end" >0.01</text>
<text x="151.7" y="122.7" font-size="7.1" text-anchor="end" >0.00</text>
<text x="153" y="128.2" font-size="7.1" text-anchor="middle" >20</text>
<text x="163.4" y="128.2" font-size="7.1" text-anchor="middle" >30</text>
<text x="172.8" y="128.2" font-size="7.1" text-anchor="middle" >40</text>
<text x="189.8" y="128.2" font-size="7.1" text-anchor="middle" >200</text>
<text x="201.4" y="128.2" font-size="7.1" text-anchor="middle" >205</text>
<text x="198.7" y="106.7" font-size="5.8" text-anchor="middle" fill="#555" style="stroke:#666">B</text>
<rect x="181.0" y="118.8" width="4" height="3" fill="#fdfdfd"/>
<path d="M179.8,118.7l2.2,2.4M181.8,118.7l2.2,2.4M183.6,119.1l2,2.2" stroke="#222" stroke-width="1.0" fill="none"/>
<rect x="114.5" y="155.4" width="23.3" height="18.5" fill="#fff"/>
<path d="M114.5,173.9L114.5,156.88L114.89,157.5L115.29,158.11L115.68,158.71L116.08,159.29L116.47,159.86L116.87,160.4L117.26,160.94L117.66,161.46L118.05,161.97L118.45,162.47L118.84,162.96L119.24,163.43L119.63,163.88L120.03,164.31L120.42,164.72L120.82,165.13L121.21,165.52L121.61,165.9L122,166.27L122.4,166.63L122.79,166.98L123.19,167.32L123.58,167.64L123.98,167.96L124.37,168.27L124.77,168.58L125.16,168.88L125.56,169.18L125.95,169.46L126.35,169.74L126.74,170L127.14,170.25L127.53,170.49L127.93,170.72L128.32,170.93L128.72,171.13L129.11,171.32L129.51,171.5L129.9,171.68L130.3,171.85L130.69,172.01L131.09,172.17L131.48,172.32L131.88,172.47L132.27,172.61L132.67,172.75L133.06,172.89L133.46,173.02L133.85,173.14L134.25,173.25L134.64,173.35L135.04,173.45L135.43,173.53L135.83,173.61L136.22,173.68L136.62,173.75L137.01,173.81L137.41,173.86L137.8,173.9L137.8,173.9Z" fill="#0618c2"/>
<path d="M114.5,155.4H137.8V173.9" fill="none" stroke="#8a8a8a" stroke-width="0.8"/>
<path d="M114.5,155.4V173.9H137.8" fill="none" stroke="#555" stroke-width="0.8"/>
<path d="M116.5,173.9V172.3" stroke="#444" stroke-width="0.7" fill="none"/>
<text x="112.9" y="160.39" font-size="7.1" text-anchor="end" >0.04</text>
<text x="112.9" y="176.3" font-size="7.1" text-anchor="end" >0.00</text>
<text x="116.5" y="182.9" font-size="7.1" text-anchor="middle" >600</text>
<text x="138.5" y="182.9" font-size="7.1" text-anchor="middle" >1200</text>
<text x="135.2" y="160.4" font-size="5.8" text-anchor="middle" fill="#555" style="stroke:#666">C</text>
<rect x="117" y="222.5" width="68" height="18.6" fill="#fff"/>
<path d="M117,241.1L117,223.43L117.12,223.71L117.24,224L117.37,224.29L117.49,224.57L117.61,224.86L117.73,225.15L117.85,225.43L117.98,225.72L118.1,226.01L118.22,226.3L118.34,226.59L118.46,226.88L118.59,227.17L118.71,227.46L118.83,227.76L118.95,228.05L119.07,228.34L119.2,228.63L119.32,228.93L119.44,229.22L119.56,229.52L119.68,229.81L119.81,230.11L119.93,230.41L120.05,230.7L120.17,231L120.29,231.3L120.42,231.6L120.54,231.9L120.66,232.19L120.78,232.49L120.91,232.8L121.03,233.1L121.15,233.4L121.27,233.7L121.39,234L121.52,234.31L121.64,234.61L121.76,234.91L121.88,235.22L122,235.52L122.13,235.83L122.25,236.13L122.37,236.44L122.49,236.75L122.61,237.06L122.74,237.36L122.86,237.67L122.98,237.98L123.1,238.29L123.22,238.6L123.35,238.91L123.47,239.22L123.59,239.53L123.71,239.85L123.83,240.16L123.96,240.47L124.08,240.79L124.2,241.1L124.2,241.1Z" fill="#a03cff"/>
<path d="M138.6,241.1L138.6,241.1L138.8,240.62L139,240.16L139.21,239.7L139.41,239.26L139.61,238.82L139.81,238.4L140.01,238L140.21,237.61L140.42,237.23L140.62,236.87L140.82,236.53L141.02,236.21L141.22,235.9L141.42,235.62L141.63,235.35L141.83,235.08L142.03,234.8L142.23,234.53L142.43,234.26L142.63,233.99L142.84,233.74L143.04,233.5L143.24,233.28L143.44,233.08L143.64,232.9L143.84,232.76L144.05,232.65L144.25,232.58L144.45,232.55L144.65,232.56L144.85,232.61L145.05,232.7L145.26,232.83L145.46,232.99L145.66,233.18L145.86,233.39L146.06,233.62L146.26,233.87L146.47,234.13L146.67,234.4L146.87,234.67L147.07,234.95L147.27,235.22L147.47,235.49L147.68,235.76L147.88,236.04L148.08,236.35L148.28,236.67L148.48,237L148.68,237.36L148.89,237.72L149.09,238.1L149.29,238.5L149.49,238.9L149.69,239.32L149.89,239.75L150.1,240.19L150.3,240.64L150.5,241.1L150.5,241.1Z" fill="#a03cff"/>
<path d="M158.6,241.1L158.6,241.1L158.92,240.32L159.25,239.57L159.57,238.85L159.89,238.16L160.22,237.5L160.54,236.87L160.87,236.29L161.19,235.75L161.51,235.25L161.84,234.8L162.16,234.39L162.48,233.99L162.81,233.59L163.13,233.22L163.46,232.86L163.78,232.55L164.1,232.27L164.43,232.05L164.75,231.88L165.07,231.78L165.4,231.71L165.72,231.64L166.05,231.58L166.37,231.53L166.69,231.49L167.02,231.46L167.34,231.44L167.66,231.43L167.99,231.44L168.31,231.47L168.64,231.53L168.96,231.6L169.28,231.69L169.61,231.8L169.93,231.92L170.25,232.04L170.58,232.18L170.9,232.32L171.23,232.47L171.55,232.66L171.87,232.89L172.2,233.17L172.52,233.47L172.84,233.8L173.17,234.16L173.49,234.53L173.82,234.93L174.14,235.33L174.46,235.75L174.79,236.17L175.11,236.6L175.43,237.05L175.76,237.55L176.08,238.08L176.41,238.64L176.73,239.22L177.05,239.83L177.38,240.46L177.7,241.1L177.7,241.1Z" fill="#a03cff"/>
<path d="M117,222.5H185V241.1" fill="none" stroke="#8a8a8a" stroke-width="0.8"/>
<path d="M117,222.5V241.1H185" fill="none" stroke="#555" stroke-width="0.8"/>
<path d="M150.9,241.1V239.5" stroke="#444" stroke-width="0.7" fill="none"/>
<text x="114.3" y="225.64" font-size="7.1" text-anchor="end" >0.01</text>
<text x="114.3" y="243.5" font-size="7.1" text-anchor="end" >0.00</text>
<text x="117.3" y="248.6" font-size="7.1" text-anchor="middle" >1200</text>
<text x="150.9" y="248.6" font-size="7.1" text-anchor="middle" >2200</text>
<text x="185" y="248.6" font-size="7.1" text-anchor="middle" >3200</text>
<text x="182.4" y="227.5" font-size="5.8" text-anchor="middle" fill="#555" style="stroke:#666">D</text>
<rect x="117.1" y="282.3" width="67.9" height="18.2" fill="#fff"/>
<path d="M117.1,300.5L117.1,285.03L117.28,285.39L117.46,285.75L117.64,286.1L117.82,286.45L118,286.8L118.18,287.15L118.36,287.49L118.54,287.83L118.72,288.17L118.9,288.51L119.08,288.84L119.26,289.17L119.44,289.49L119.62,289.81L119.79,290.13L119.97,290.45L120.15,290.76L120.33,291.07L120.51,291.38L120.69,291.7L120.87,292.01L121.05,292.32L121.23,292.64L121.41,292.94L121.59,293.25L121.77,293.55L121.95,293.85L122.13,294.15L122.31,294.44L122.49,294.73L122.67,295.01L122.85,295.28L123.03,295.55L123.21,295.81L123.39,296.06L123.57,296.31L123.75,296.54L123.93,296.77L124.11,296.99L124.29,297.2L124.47,297.41L124.65,297.62L124.83,297.83L125.01,298.03L125.18,298.23L125.36,298.42L125.54,298.61L125.72,298.79L125.9,298.97L126.08,299.15L126.26,299.32L126.44,299.49L126.62,299.65L126.8,299.8L126.98,299.96L127.16,300.1L127.34,300.24L127.52,300.37L127.7,300.5L127.7,300.5Z" fill="#858585"/>
<path d="M151.4,300.5L151.4,300.5L151.78,300.28L152.17,300.05L152.55,299.83L152.94,299.6L153.32,299.36L153.71,299.13L154.09,298.89L154.48,298.65L154.86,298.4L155.25,298.15L155.63,297.87L156.02,297.56L156.4,297.24L156.79,296.93L157.17,296.62L157.56,296.33L157.94,296.07L158.33,295.85L158.71,295.68L159.09,295.56L159.48,295.47L159.86,295.38L160.25,295.3L160.63,295.23L161.02,295.17L161.4,295.12L161.79,295.08L162.17,295.05L162.56,295.04L162.94,295.05L163.33,295.09L163.71,295.15L164.1,295.22L164.48,295.31L164.87,295.42L165.25,295.53L165.64,295.65L166.02,295.77L166.41,295.92L166.79,296.12L167.17,296.34L167.56,296.6L167.94,296.87L168.33,297.15L168.71,297.44L169.1,297.72L169.48,297.99L169.87,298.24L170.25,298.46L170.64,298.68L171.02,298.9L171.41,299.11L171.79,299.32L172.18,299.53L172.56,299.73L172.95,299.93L173.33,300.12L173.72,300.31L174.1,300.5L174.1,300.5Z" fill="#858585"/>
<path d="M117.1,282.3H185V300.5" fill="none" stroke="#8a8a8a" stroke-width="0.8"/>
<path d="M117.1,282.3V300.5H185" fill="none" stroke="#555" stroke-width="0.8"/>
<path d="M151,300.5V298.9" stroke="#444" stroke-width="0.7" fill="none"/>
<text x="113.7" y="285.06" font-size="7.1" text-anchor="end" >0.008</text>
<text x="113.7" y="302.9" font-size="7.1" text-anchor="end" >0.000</text>
<text x="117.1" y="307.5" font-size="7.1" text-anchor="middle" >800</text>
<text x="151" y="307.5" font-size="7.1" text-anchor="middle" >1400</text>
<text x="185" y="307.5" font-size="7.1" text-anchor="middle" >2000</text>
<text x="182.4" y="287.3" font-size="5.8" text-anchor="middle" fill="#555" style="stroke:#666">E</text>
<rect x="117.3" y="341.5" width="68.1" height="18.4" fill="#fff"/>
<path d="M117.3,359.9L117.3,345.18L117.43,345.44L117.56,345.7L117.69,345.97L117.82,346.23L117.94,346.49L118.07,346.75L118.2,347.01L118.33,347.27L118.46,347.53L118.59,347.78L118.72,348.04L118.85,348.3L118.97,348.56L119.1,348.81L119.23,349.07L119.36,349.33L119.49,349.58L119.62,349.84L119.75,350.09L119.88,350.34L120.01,350.6L120.13,350.85L120.26,351.1L120.39,351.36L120.52,351.61L120.65,351.86L120.78,352.11L120.91,352.36L121.04,352.61L121.16,352.86L121.29,353.11L121.42,353.36L121.55,353.6L121.68,353.85L121.81,354.1L121.94,354.34L122.07,354.59L122.19,354.84L122.32,355.08L122.45,355.33L122.58,355.57L122.71,355.82L122.84,356.06L122.97,356.3L123.1,356.55L123.23,356.79L123.35,357.03L123.48,357.27L123.61,357.51L123.74,357.75L123.87,357.99L124,358.23L124.13,358.47L124.26,358.71L124.38,358.95L124.51,359.19L124.64,359.43L124.77,359.66L124.9,359.9L124.9,359.9Z" fill="#ff8800"/>
<path d="M163.2,359.9L163.2,359.9L163.44,359.05L163.67,358.22L163.91,357.41L164.15,356.62L164.39,355.85L164.62,355.1L164.86,354.37L165.1,353.67L165.34,352.99L165.57,352.34L165.81,351.68L166.05,351.02L166.28,350.35L166.52,349.7L166.76,349.08L167,348.49L167.23,347.95L167.47,347.47L167.71,347.05L167.95,346.72L168.18,346.44L168.42,346.18L168.66,345.92L168.89,345.69L169.13,345.5L169.37,345.34L169.61,345.23L169.84,345.18L170.08,345.2L170.32,345.26L170.56,345.37L170.79,345.52L171.03,345.7L171.27,345.91L171.51,346.14L171.74,346.38L171.98,346.63L172.22,346.93L172.45,347.32L172.69,347.79L172.93,348.33L173.17,348.92L173.4,349.55L173.64,350.2L173.88,350.87L174.12,351.52L174.35,352.16L174.59,352.77L174.83,353.37L175.06,353.99L175.3,354.61L175.54,355.25L175.78,355.89L176.01,356.54L176.25,357.19L176.49,357.86L176.73,358.53L176.96,359.21L177.2,359.9L177.2,359.9Z" fill="#ff8800"/>
<path d="M117.3,341.5H185.4V359.9" fill="none" stroke="#8a8a8a" stroke-width="0.8"/>
<path d="M117.3,341.5V359.9H185.4" fill="none" stroke="#555" stroke-width="0.8"/>
<path d="M124.2,359.9V358.3M155,359.9V358.3" stroke="#444" stroke-width="0.7" fill="none"/>
<text x="113.6" y="344.08" font-size="7.1" text-anchor="end" >0.003</text>
<text x="113.6" y="361.93" font-size="7.1" text-anchor="end" >0.000</text>
<text x="124.2" y="368.3" font-size="7.1" text-anchor="middle" >1200</text>
<text x="155" y="368.3" font-size="7.1" text-anchor="middle" >2000</text>
<text x="185" y="368.3" font-size="7.1" text-anchor="middle" >2800</text>
<text x="182.8" y="346.5" font-size="5.8" text-anchor="middle" fill="#555" style="stroke:#666">F</text>
<rect x="293.6" y="43.5" width="66.8" height="16.4" fill="#fff"/>
<path d="M293.6,59.9L293.6,46.29L293.92,46.66L294.25,47.03L294.57,47.39L294.89,47.76L295.22,48.12L295.54,48.48L295.87,48.83L296.19,49.19L296.51,49.54L296.84,49.89L297.16,50.23L297.48,50.58L297.81,50.93L298.13,51.28L298.46,51.62L298.78,51.97L299.1,52.31L299.43,52.64L299.75,52.97L300.07,53.29L300.4,53.61L300.72,53.91L301.05,54.2L301.37,54.49L301.69,54.77L302.02,55.05L302.34,55.33L302.66,55.6L302.99,55.87L303.31,56.12L303.64,56.37L303.96,56.6L304.28,56.83L304.61,57.04L304.93,57.24L305.25,57.42L305.58,57.6L305.9,57.77L306.23,57.94L306.55,58.1L306.87,58.26L307.2,58.4L307.52,58.55L307.84,58.68L308.17,58.8L308.49,58.92L308.82,59.02L309.14,59.12L309.46,59.21L309.79,59.31L310.11,59.39L310.43,59.48L310.76,59.55L311.08,59.63L311.41,59.7L311.73,59.76L312.05,59.81L312.38,59.86L312.7,59.9L312.7,59.9Z" fill="#ff0000"/>
<path d="M332.7,59.9L332.7,59.9L333.17,59.34L333.64,58.79L334.11,58.26L334.58,57.75L335.05,57.25L335.52,56.77L335.99,56.31L336.46,55.83L336.93,55.32L337.39,54.83L337.86,54.38L338.33,54L338.8,53.74L339.27,53.59L339.74,53.47L340.21,53.36L340.68,53.27L341.15,53.21L341.62,53.18L342.09,53.18L342.56,53.23L343.03,53.3L343.5,53.4L343.97,53.52L344.44,53.66L344.91,53.81L345.38,53.96L345.85,54.11L346.32,54.27L346.78,54.45L347.25,54.66L347.72,54.89L348.19,55.14L348.66,55.39L349.13,55.65L349.6,55.91L350.07,56.16L350.54,56.4L351.01,56.62L351.48,56.84L351.95,57.06L352.42,57.28L352.89,57.49L353.36,57.71L353.83,57.91L354.3,58.11L354.77,58.31L355.24,58.49L355.71,58.65L356.17,58.81L356.64,58.95L357.11,59.1L357.58,59.23L358.05,59.36L358.52,59.49L358.99,59.6L359.46,59.71L359.93,59.81L360.4,59.9L360.4,59.9Z" fill="#ff0000"/>
<path d="M293.6,43.5H360.4V59.9" fill="none" stroke="#8a8a8a" stroke-width="0.8"/>
<path d="M293.6,43.5V59.9H360.4" fill="none" stroke="#555" stroke-width="0.8"/>
<path d="M326.4,59.9V58.3" stroke="#444" stroke-width="0.7" fill="none"/>
<text x="291.8" y="47.54" font-size="7.1" text-anchor="end" >0.04</text>
<text x="291.8" y="62.3" font-size="7.1" text-anchor="end" >0.00</text>
<text x="293.6" y="69.2" font-size="7.1" text-anchor="middle" >200</text>
<text x="326.4" y="69.2" font-size="7.1" text-anchor="middle" >290</text>
<text x="360" y="69.2" font-size="7.1" text-anchor="middle" >380</text>
<text x="357.8" y="48.5" font-size="5.8" text-anchor="middle" fill="#555" style="stroke:#666">G</text>
<rect x="293.6" y="100.7" width="67.3" height="16.2" fill="#fff"/>
<path d="M293.6,116.9L293.6,105.56L293.75,105.75L293.9,105.94L294.05,106.14L294.2,106.33L294.35,106.53L294.49,106.73L294.64,106.93L294.79,107.13L294.94,107.33L295.09,107.53L295.24,107.74L295.39,107.94L295.54,108.15L295.69,108.36L295.84,108.57L295.99,108.78L296.14,109L296.28,109.22L296.43,109.44L296.58,109.67L296.73,109.91L296.88,110.14L297.03,110.38L297.18,110.62L297.33,110.86L297.48,111.1L297.63,111.34L297.78,111.58L297.93,111.81L298.07,112.04L298.22,112.26L298.37,112.48L298.52,112.7L298.67,112.91L298.82,113.11L298.97,113.3L299.12,113.48L299.27,113.67L299.42,113.85L299.57,114.03L299.72,114.2L299.86,114.38L300.01,114.55L300.16,114.72L300.31,114.88L300.46,115.05L300.61,115.21L300.76,115.37L300.91,115.52L301.06,115.68L301.21,115.83L301.36,115.97L301.51,116.12L301.65,116.26L301.8,116.39L301.95,116.52L302.1,116.65L302.25,116.78L302.4,116.9L302.4,116.9Z" fill="#068a08"/>
<path d="M344.5,116.9L344.5,116.9L344.77,116.36L345.04,115.82L345.31,115.29L345.58,114.77L345.85,114.25L346.12,113.74L346.39,113.24L346.66,112.74L346.93,112.25L347.19,111.77L347.46,111.29L347.73,110.81L348,110.31L348.27,109.8L348.54,109.28L348.81,108.77L349.08,108.28L349.35,107.82L349.62,107.39L349.89,107.01L350.16,106.69L350.43,106.43L350.7,106.22L350.97,106.02L351.24,105.83L351.51,105.65L351.78,105.49L352.05,105.35L352.32,105.23L352.58,105.14L352.85,105.09L353.12,105.07L353.39,105.11L353.66,105.19L353.93,105.31L354.2,105.48L354.47,105.68L354.74,105.9L355.01,106.15L355.28,106.42L355.55,106.7L355.82,106.99L356.09,107.28L356.36,107.63L356.63,108.06L356.9,108.54L357.17,109.08L357.44,109.65L357.71,110.24L357.97,110.85L358.24,111.46L358.51,112.07L358.78,112.69L359.05,113.33L359.32,114L359.59,114.7L359.86,115.41L360.13,116.15L360.4,116.9L360.4,116.9Z" fill="#068a08"/>
<path d="M293.6,100.7H360.9V116.9" fill="none" stroke="#8a8a8a" stroke-width="0.8"/>
<path d="M293.6,100.7V116.9H360.9" fill="none" stroke="#555" stroke-width="0.8"/>
<path d="M327.3,116.9V115.3" stroke="#444" stroke-width="0.7" fill="none"/>
<text x="291.3" y="103.59" font-size="7.1" text-anchor="end" >0.006</text>
<text x="291.3" y="119.3" font-size="7.1" text-anchor="end" >0.000</text>
<text x="293.6" y="126.2" font-size="7.1" text-anchor="middle" >100</text>
<text x="327.3" y="126.2" font-size="7.1" text-anchor="middle" >180</text>
<text x="360.4" y="126.2" font-size="7.1" text-anchor="middle" >260</text>
<text x="358.3" y="105.7" font-size="5.8" text-anchor="middle" fill="#555" style="stroke:#666">H</text>
<rect x="293.8" y="162.8" width="67.1" height="16" fill="#fff"/>
<path d="M293.8,178.8L293.8,163.92L294.87,164.63L295.94,165.39L297.01,166.19L298.08,167.02L299.15,167.96L300.22,168.96L301.29,169.92L302.36,170.74L303.43,171.53L304.49,172.25L305.56,172.76L306.63,173L307.7,173.16L308.77,173.19L309.84,172.96L310.91,172.54L311.98,172.09L313.05,171.61L314.12,171.03L315.19,170.4L316.26,169.78L317.33,169.2L318.4,168.7L319.47,168.22L320.54,167.75L321.61,167.32L322.68,166.95L323.75,166.69L324.82,166.51L325.88,166.34L326.95,166.2L328.02,166.09L329.09,166.02L330.16,166L331.23,166L332.3,166L333.37,166L334.44,166L335.51,166L336.58,166.02L337.65,166.13L338.72,166.34L339.79,166.61L340.86,166.92L341.93,167.26L343,167.65L344.07,168.18L345.14,168.81L346.21,169.51L347.27,170.27L348.34,171.06L349.41,172.01L350.48,173.09L351.55,174.2L352.62,175.26L353.69,176.2L354.76,177.1L355.83,177.97L356.9,178.8L356.9,178.8Z" fill="#0618c2"/>
<path d="M293.8,162.8H360.9V178.8" fill="none" stroke="#8a8a8a" stroke-width="0.8"/>
<path d="M293.8,162.8V178.8H360.9" fill="none" stroke="#555" stroke-width="0.8"/>
<path d="M327.8,178.8V177.2" stroke="#444" stroke-width="0.7" fill="none"/>
<text x="291.1" y="166.32" font-size="7.1" text-anchor="end" >0.01</text>
<text x="291.1" y="181.2" font-size="7.1" text-anchor="end" >0.00</text>
<text x="293.4" y="187.5" font-size="7.1" text-anchor="middle" >180</text>
<text x="327.8" y="187.5" font-size="7.1" text-anchor="middle" >230</text>
<text x="360.9" y="187.5" font-size="7.1" text-anchor="middle" >280</text>
<text x="358.3" y="167.8" font-size="5.8" text-anchor="middle" fill="#555" style="stroke:#666">I</text>
<rect x="294.2" y="222.4" width="66.7" height="16.9" fill="#fff"/>
<path d="M294.2,239.3L294.2,225.1L294.31,225.36L294.41,225.62L294.52,225.88L294.63,226.14L294.73,226.4L294.84,226.65L294.95,226.91L295.05,227.16L295.16,227.42L295.27,227.67L295.37,227.93L295.48,228.18L295.59,228.43L295.69,228.68L295.8,228.93L295.91,229.18L296.02,229.43L296.12,229.68L296.23,229.93L296.34,230.18L296.44,230.42L296.55,230.67L296.66,230.91L296.76,231.16L296.87,231.4L296.98,231.64L297.08,231.88L297.19,232.12L297.3,232.36L297.4,232.6L297.51,232.84L297.62,233.08L297.72,233.32L297.83,233.56L297.94,233.8L298.04,234.03L298.15,234.27L298.26,234.5L298.36,234.74L298.47,234.97L298.58,235.21L298.68,235.44L298.79,235.67L298.9,235.9L299.01,236.13L299.11,236.36L299.22,236.59L299.33,236.82L299.43,237.05L299.54,237.28L299.65,237.51L299.75,237.73L299.86,237.96L299.97,238.18L300.07,238.41L300.18,238.63L300.29,238.86L300.39,239.08L300.5,239.3L300.5,239.3Z" fill="#a03cff"/>
<path d="M304.9,239.3L304.9,239.3L305,238.66L305.1,238.02L305.21,237.39L305.31,236.76L305.41,236.13L305.51,235.51L305.61,234.9L305.71,234.29L305.82,233.68L305.92,233.08L306.02,232.48L306.12,231.89L306.22,231.3L306.32,230.71L306.43,230.08L306.53,229.39L306.63,228.67L306.73,227.93L306.83,227.19L306.93,226.48L307.04,225.81L307.14,225.2L307.24,224.68L307.34,224.25L307.44,223.94L307.54,223.78L307.65,223.76L307.75,223.86L307.85,224.06L307.95,224.34L308.05,224.7L308.15,225.13L308.26,225.61L308.36,226.13L308.46,226.69L308.56,227.28L308.66,227.88L308.76,228.48L308.87,229.07L308.97,229.65L309.07,230.2L309.17,230.71L309.27,231.19L309.37,231.67L309.48,232.16L309.58,232.65L309.68,233.14L309.78,233.63L309.88,234.13L309.98,234.63L310.09,235.14L310.19,235.65L310.29,236.16L310.39,236.67L310.49,237.19L310.59,237.71L310.7,238.24L310.8,238.77L310.9,239.3L310.9,239.3Z" fill="#a03cff"/>
<path d="M331.8,239.3L331.8,239.3L331.89,238.8L331.99,238.3L332.08,237.82L332.17,237.35L332.27,236.9L332.36,236.46L332.45,236.04L332.55,235.63L332.64,235.25L332.73,234.88L332.83,234.54L332.92,234.21L333.01,233.91L333.11,233.64L333.2,233.39L333.29,233.15L333.38,232.91L333.48,232.67L333.57,232.44L333.66,232.21L333.76,231.99L333.85,231.79L333.94,231.6L334.04,231.44L334.13,231.29L334.22,231.18L334.32,231.09L334.41,231.04L334.5,231.02L334.6,231.04L334.69,231.08L334.78,231.16L334.88,231.26L334.97,231.39L335.06,231.53L335.16,231.7L335.25,231.88L335.34,232.07L335.44,232.28L335.53,232.49L335.62,232.71L335.72,232.94L335.81,233.16L335.9,233.39L335.99,233.63L336.09,233.9L336.18,234.19L336.27,234.51L336.37,234.85L336.46,235.22L336.55,235.61L336.65,236.01L336.74,236.44L336.83,236.88L336.93,237.34L337.02,237.81L337.11,238.3L337.21,238.79L337.3,239.3L337.3,239.3Z" fill="#a03cff"/>
<path d="M338.7,239.3L338.7,239.3L338.79,238.8L338.89,238.31L338.98,237.84L339.07,237.37L339.17,236.92L339.26,236.49L339.35,236.07L339.45,235.67L339.54,235.28L339.63,234.91L339.73,234.57L339.82,234.24L339.91,233.93L340.01,233.65L340.1,233.39L340.19,233.14L340.28,232.88L340.38,232.63L340.47,232.38L340.56,232.14L340.66,231.9L340.75,231.68L340.84,231.48L340.94,231.3L341.03,231.15L341.12,231.02L341.22,230.93L341.31,230.87L341.4,230.85L341.5,230.87L341.59,230.92L341.68,231L341.78,231.11L341.87,231.25L341.96,231.41L342.06,231.58L342.15,231.78L342.24,231.99L342.34,232.21L342.43,232.44L342.52,232.67L342.62,232.91L342.71,233.15L342.8,233.39L342.89,233.64L342.99,233.92L343.08,234.22L343.17,234.54L343.27,234.89L343.36,235.25L343.45,235.64L343.55,236.04L343.64,236.47L343.73,236.91L343.83,237.36L343.92,237.83L344.01,238.31L344.11,238.8L344.2,239.3L344.2,239.3Z" fill="#a03cff"/>
<path d="M348.5,239.3L348.5,239.3L348.6,238.79L348.7,238.29L348.81,237.8L348.91,237.33L349.01,236.86L349.11,236.42L349.21,235.99L349.31,235.58L349.42,235.19L349.52,234.82L349.62,234.47L349.72,234.15L349.82,233.85L349.92,233.57L350.03,233.32L350.13,233.08L350.23,232.84L350.33,232.59L350.43,232.36L350.53,232.13L350.64,231.91L350.74,231.7L350.84,231.51L350.94,231.34L351.04,231.18L351.14,231.06L351.25,230.96L351.35,230.89L351.45,230.85L351.55,230.85L351.65,230.89L351.75,230.96L351.86,231.06L351.96,231.18L352.06,231.34L352.16,231.51L352.26,231.7L352.36,231.91L352.47,232.13L352.57,232.36L352.67,232.59L352.77,232.84L352.87,233.08L352.97,233.32L353.08,233.57L353.18,233.85L353.28,234.15L353.38,234.47L353.48,234.82L353.58,235.19L353.69,235.58L353.79,235.99L353.89,236.42L353.99,236.86L354.09,237.33L354.19,237.8L354.3,238.29L354.4,238.79L354.5,239.3L354.5,239.3Z" fill="#a03cff"/>
<path d="M294.2,222.4H360.9V239.3" fill="none" stroke="#8a8a8a" stroke-width="0.8"/>
<path d="M294.2,222.4V239.3H360.9" fill="none" stroke="#555" stroke-width="0.8"/>
<path d="M327.8,239.3V237.7" stroke="#444" stroke-width="0.7" fill="none"/>
<text x="291" y="225.31" font-size="7.1" text-anchor="end" >0.1</text>
<text x="291" y="241.7" font-size="7.1" text-anchor="end" >0.0</text>
<text x="294.2" y="247.9" font-size="7.1" text-anchor="middle" >200</text>
<text x="327.8" y="247.9" font-size="7.1" text-anchor="middle" >450</text>
<text x="362.5" y="247.9" font-size="7.1" text-anchor="middle" >700</text>
<text x="358.3" y="227.4" font-size="5.8" text-anchor="middle" fill="#555" style="stroke:#666">J</text>
<rect x="294.2" y="279.8" width="66.7" height="16.4" fill="#fff"/>
<path d="M294.2,296.2L294.2,280.46L294.78,280.39L295.35,280.35L295.93,280.32L296.51,280.3L297.08,280.29L297.66,280.29L298.23,280.3L298.81,280.34L299.39,280.42L299.96,280.53L300.54,280.68L301.12,280.86L301.69,281.07L302.27,281.46L302.84,282.24L303.42,283.27L304,284.39L304.57,285.42L305.15,286.22L305.73,286.99L306.3,287.78L306.88,288.49L307.45,289.02L308.03,289.3L308.61,289.3L309.18,289.25L309.76,289.17L310.34,289.08L310.91,289L311.49,288.91L312.06,288.82L312.64,288.73L313.22,288.67L313.79,288.66L314.37,288.78L314.95,289L315.52,289.3L316.1,289.63L316.67,289.96L317.25,290.26L317.83,290.59L318.4,290.94L318.98,291.32L319.56,291.7L320.13,292.09L320.71,292.47L321.28,292.83L321.86,293.17L322.44,293.48L323.01,293.79L323.59,294.09L324.17,294.38L324.74,294.67L325.32,294.94L325.89,295.21L326.47,295.47L327.05,295.72L327.62,295.97L328.2,296.2L328.2,296.2Z" fill="#858585"/>
<path d="M335.1,296.2L335.1,296.2L335.43,295.51L335.76,294.83L336.09,294.19L336.42,293.57L336.74,293L337.07,292.47L337.4,291.99L337.73,291.57L338.06,291.22L338.39,290.89L338.72,290.56L339.05,290.24L339.37,289.94L339.7,289.65L340.03,289.39L340.36,289.16L340.69,288.97L341.02,288.82L341.35,288.71L341.68,288.66L342.01,288.66L342.33,288.7L342.66,288.76L342.99,288.84L343.32,288.95L343.65,289.07L343.98,289.2L344.31,289.34L344.64,289.48L344.96,289.62L345.29,289.78L345.62,289.96L345.95,290.18L346.28,290.41L346.61,290.66L346.94,290.93L347.27,291.2L347.59,291.48L347.92,291.76L348.25,292.03L348.58,292.28L348.91,292.53L349.24,292.76L349.57,292.99L349.9,293.21L350.23,293.44L350.55,293.66L350.88,293.88L351.21,294.1L351.54,294.32L351.87,294.54L352.2,294.75L352.53,294.96L352.86,295.17L353.18,295.38L353.51,295.59L353.84,295.8L354.17,296L354.5,296.2L354.5,296.2Z" fill="#858585"/>
<path d="M294.2,279.8H360.9V296.2" fill="none" stroke="#8a8a8a" stroke-width="0.8"/>
<path d="M294.2,279.8V296.2H360.9" fill="none" stroke="#555" stroke-width="0.8"/>
<path d="M328.5,296.2V294.6" stroke="#444" stroke-width="0.7" fill="none"/>
<text x="291.3" y="282.69" font-size="7.1" text-anchor="end" >0.01</text>
<text x="291.3" y="298.6" font-size="7.1" text-anchor="end" >0.00</text>
<text x="294.2" y="304.6" font-size="7.1" text-anchor="middle" >150</text>
<text x="328.5" y="304.6" font-size="7.1" text-anchor="middle" >275</text>
<text x="360.9" y="304.6" font-size="7.1" text-anchor="middle" >400</text>
<text x="358.3" y="284.8" font-size="5.8" text-anchor="middle" fill="#555" style="stroke:#666">K</text>
<rect x="292.2" y="340.7" width="68.2" height="16.8" fill="#fff"/>
<path d="M292.2,357.5L292.2,343.05L292.63,342.98L293.05,342.91L293.48,342.86L293.9,342.81L294.33,342.77L294.75,342.75L295.18,342.73L295.6,342.72L296.03,342.72L296.45,342.72L296.88,342.75L297.31,342.78L297.73,342.82L298.16,342.88L298.58,342.95L299.01,343.02L299.43,343.1L299.86,343.19L300.28,343.3L300.71,343.51L301.13,343.79L301.56,344.14L301.98,344.53L302.41,344.96L302.84,345.4L303.26,345.85L303.69,346.28L304.11,346.68L304.54,347.09L304.96,347.5L305.39,347.93L305.81,348.37L306.24,348.81L306.66,349.26L307.09,349.71L307.52,350.17L307.94,350.66L308.37,351.16L308.79,351.68L309.22,352.19L309.64,352.7L310.07,353.18L310.49,353.64L310.92,354.06L311.34,354.46L311.77,354.85L312.19,355.23L312.62,355.59L313.05,355.92L313.47,356.21L313.9,356.44L314.32,356.63L314.75,356.81L315.17,356.98L315.6,357.14L316.02,357.27L316.45,357.38L316.87,357.46L317.3,357.5L317.3,357.5Z" fill="#ff8800"/>
<path d="M328.2,357.5L328.2,357.5L328.6,357.13L329,356.77L329.4,356.42L329.8,356.08L330.2,355.76L330.6,355.44L331,355.15L331.4,354.87L331.8,354.6L332.2,354.35L332.6,354.1L333,353.85L333.4,353.61L333.8,353.37L334.2,353.15L334.6,352.95L335,352.77L335.4,352.62L335.8,352.51L336.2,352.42L336.6,352.34L337,352.27L337.4,352.2L337.8,352.14L338.2,352.08L338.6,352.03L339,352L339.4,351.97L339.8,351.96L340.2,351.96L340.6,351.98L341,352.01L341.4,352.06L341.8,352.13L342.2,352.2L342.6,352.28L343,352.38L343.4,352.47L343.8,352.58L344.2,352.69L344.6,352.84L345,353.03L345.4,353.25L345.8,353.49L346.2,353.76L346.6,354.03L347,354.31L347.4,354.59L347.8,354.85L348.2,355.11L348.6,355.36L349,355.61L349.4,355.87L349.8,356.14L350.2,356.4L350.6,356.67L351,356.95L351.4,357.22L351.8,357.5L351.8,357.5Z" fill="#ff8800"/>
<path d="M292.2,340.7H360.4V357.5" fill="none" stroke="#8a8a8a" stroke-width="0.8"/>
<path d="M292.2,340.7V357.5H360.4" fill="none" stroke="#555" stroke-width="0.8"/>
<path d="M299.1,357.5V355.9M327.3,357.5V355.9M355.1,357.5V355.9" stroke="#444" stroke-width="0.7" fill="none"/>
<text x="289.5" y="344.44" font-size="7.1" text-anchor="end" >0.008</text>
<text x="289.5" y="359.9" font-size="7.1" text-anchor="end" >0.000</text>
<text x="299.1" y="366.8" font-size="7.1" text-anchor="middle" >200</text>
<text x="327.3" y="366.8" font-size="7.1" text-anchor="middle" >275</text>
<text x="355.1" y="366.8" font-size="7.1" text-anchor="middle" >350</text>
<text x="357.8" y="345.7" font-size="5.8" text-anchor="middle" fill="#555" style="stroke:#666">L</text>
<text transform="translate(20.6,199.4) rotate(-90)" font-size="17.45" text-anchor="middle" fill="#111">Distribution probability</text>
<text x="131.2" y="415.7" font-size="8.5" text-anchor="middle" fill="#333" style="stroke-width:0.35px">Cell cross section area（um²）</text>
<text x="294.1" y="414.8" font-size="8.4" text-anchor="middle" fill="#333" style="stroke-width:0.35px">Cell cross section perimeter（um）</text>
<text x="445.6" y="414.0" font-size="8.5" fill="#333" style="stroke-width:0.35px">Cell  roundness S<tspan font-size="4.6" dy="2.6">R</tspan></text>
<text x="124.2" y="436.5" font-size="8.5" text-anchor="middle" fill="#333" style="stroke-width:0.35px">(a)</text>
<text x="296.4" y="437.8" font-size="8.5" text-anchor="middle" fill="#333" style="stroke-width:0.35px">(b)</text>
<text x="482.6" y="436.7" font-size="8.5" text-anchor="middle" fill="#333" style="stroke-width:0.35px">(c)</text>
</svg></body></html>
